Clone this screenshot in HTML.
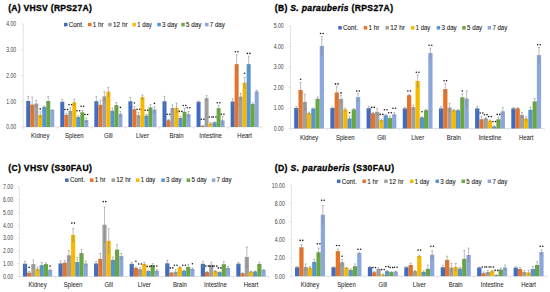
<!DOCTYPE html><html><head><meta charset="utf-8"><style>html,body{margin:0;padding:0;background:#fff;}svg{display:block;font-family:"Liberation Sans",sans-serif;}</style></head><body>
<svg width="550" height="292" viewBox="0 0 550 292">
<rect width="550" height="292" fill="#fff"/>
<text x="8.2" y="10.9" font-size="8.6" font-weight="bold" fill="#000" stroke="#000" stroke-width="0.3" textLength="83.6" lengthAdjust="spacing">(A) VHSV (RPS27A)</text>
<line x1="23.2" y1="24" x2="23.2" y2="127" stroke="#D9D9D9" stroke-width="0.75"/>
<line x1="21.2" y1="127" x2="23.2" y2="127" stroke="#D9D9D9" stroke-width="0.75"/>
<text x="16.2" y="129.3" font-size="6.6" fill="#404040" text-anchor="end" textLength="10" lengthAdjust="spacingAndGlyphs">0.00</text>
<line x1="21.2" y1="101.25" x2="23.2" y2="101.25" stroke="#D9D9D9" stroke-width="0.75"/>
<text x="16.2" y="103.55" font-size="6.6" fill="#404040" text-anchor="end" textLength="10" lengthAdjust="spacingAndGlyphs">1.00</text>
<line x1="21.2" y1="75.5" x2="23.2" y2="75.5" stroke="#D9D9D9" stroke-width="0.75"/>
<text x="16.2" y="77.8" font-size="6.6" fill="#404040" text-anchor="end" textLength="10" lengthAdjust="spacingAndGlyphs">2.00</text>
<line x1="21.2" y1="49.75" x2="23.2" y2="49.75" stroke="#D9D9D9" stroke-width="0.75"/>
<text x="16.2" y="52.05" font-size="6.6" fill="#404040" text-anchor="end" textLength="10" lengthAdjust="spacingAndGlyphs">3.00</text>
<line x1="21.2" y1="24" x2="23.2" y2="24" stroke="#D9D9D9" stroke-width="0.75"/>
<text x="16.2" y="26.3" font-size="6.6" fill="#404040" text-anchor="end" textLength="10" lengthAdjust="spacingAndGlyphs">4.00</text>
<line x1="23.2" y1="127" x2="261.7" y2="127" stroke="#D9D9D9" stroke-width="0.75"/>
<line x1="23.2" y1="127" x2="23.2" y2="129" stroke="#D9D9D9" stroke-width="0.75"/>
<line x1="57.27" y1="127" x2="57.27" y2="129" stroke="#D9D9D9" stroke-width="0.75"/>
<line x1="91.34" y1="127" x2="91.34" y2="129" stroke="#D9D9D9" stroke-width="0.75"/>
<line x1="125.41" y1="127" x2="125.41" y2="129" stroke="#D9D9D9" stroke-width="0.75"/>
<line x1="159.49" y1="127" x2="159.49" y2="129" stroke="#D9D9D9" stroke-width="0.75"/>
<line x1="193.56" y1="127" x2="193.56" y2="129" stroke="#D9D9D9" stroke-width="0.75"/>
<line x1="227.63" y1="127" x2="227.63" y2="129" stroke="#D9D9D9" stroke-width="0.75"/>
<line x1="261.7" y1="127" x2="261.7" y2="129" stroke="#D9D9D9" stroke-width="0.75"/>
<rect x="26.21" y="100.99" width="4.01" height="26.01" fill="#3F6CBF"/>
<rect x="30.21" y="104.6" width="4.01" height="22.4" fill="#E57428"/>
<rect x="34.22" y="103.57" width="4.01" height="23.43" fill="#A0A0A0"/>
<rect x="38.23" y="114.77" width="4.01" height="12.23" fill="#F7B900"/>
<rect x="42.24" y="106.91" width="4.01" height="20.09" fill="#5495D2"/>
<rect x="46.25" y="100.99" width="4.01" height="26.01" fill="#68A640"/>
<rect x="50.26" y="110" width="4.01" height="17" fill="#8CA7DB"/>
<line x1="28.21" y1="96.36" x2="28.21" y2="105.63" stroke="#858585" stroke-width="0.55"/>
<line x1="27.21" y1="96.36" x2="29.21" y2="96.36" stroke="#858585" stroke-width="0.55"/>
<line x1="27.21" y1="105.63" x2="29.21" y2="105.63" stroke="#858585" stroke-width="0.55"/>
<line x1="32.22" y1="97.13" x2="32.22" y2="112.06" stroke="#858585" stroke-width="0.55"/>
<line x1="31.22" y1="97.13" x2="33.22" y2="97.13" stroke="#858585" stroke-width="0.55"/>
<line x1="31.22" y1="112.06" x2="33.22" y2="112.06" stroke="#858585" stroke-width="0.55"/>
<line x1="36.23" y1="100.48" x2="36.23" y2="106.66" stroke="#858585" stroke-width="0.55"/>
<line x1="35.23" y1="100.48" x2="37.23" y2="100.48" stroke="#858585" stroke-width="0.55"/>
<line x1="35.23" y1="106.66" x2="37.23" y2="106.66" stroke="#858585" stroke-width="0.55"/>
<line x1="40.24" y1="111.81" x2="40.24" y2="117.73" stroke="#858585" stroke-width="0.55"/>
<line x1="39.24" y1="111.81" x2="41.24" y2="111.81" stroke="#858585" stroke-width="0.55"/>
<line x1="39.24" y1="117.73" x2="41.24" y2="117.73" stroke="#858585" stroke-width="0.55"/>
<circle cx="40.24" cy="108.9" r="0.8" fill="#1a1a1a"/>
<line x1="44.24" y1="106.14" x2="44.24" y2="107.69" stroke="#858585" stroke-width="0.55"/>
<line x1="43.24" y1="106.14" x2="45.24" y2="106.14" stroke="#858585" stroke-width="0.55"/>
<line x1="43.24" y1="107.69" x2="45.24" y2="107.69" stroke="#858585" stroke-width="0.55"/>
<line x1="48.25" y1="96.36" x2="48.25" y2="105.63" stroke="#858585" stroke-width="0.55"/>
<line x1="47.25" y1="96.36" x2="49.25" y2="96.36" stroke="#858585" stroke-width="0.55"/>
<line x1="47.25" y1="105.63" x2="49.25" y2="105.63" stroke="#858585" stroke-width="0.55"/>
<line x1="52.26" y1="109.75" x2="52.26" y2="110.26" stroke="#858585" stroke-width="0.55"/>
<line x1="51.26" y1="109.75" x2="53.26" y2="109.75" stroke="#858585" stroke-width="0.55"/>
<line x1="51.26" y1="110.26" x2="53.26" y2="110.26" stroke="#858585" stroke-width="0.55"/>
<text x="40.24" y="138.2" font-size="6.3" fill="#262626" stroke="#262626" stroke-width="0.05" text-anchor="middle" textLength="18.3" lengthAdjust="spacingAndGlyphs">Kidney</text>
<rect x="60.28" y="101.77" width="4.01" height="25.23" fill="#3F6CBF"/>
<rect x="64.29" y="114.9" width="4.01" height="12.1" fill="#E57428"/>
<rect x="68.29" y="110.78" width="4.01" height="16.22" fill="#A0A0A0"/>
<rect x="72.3" y="102.28" width="4.01" height="24.72" fill="#F7B900"/>
<rect x="76.31" y="116.96" width="4.01" height="10.04" fill="#5495D2"/>
<rect x="80.32" y="112.32" width="4.01" height="14.68" fill="#68A640"/>
<rect x="84.33" y="120.05" width="4.01" height="6.95" fill="#8CA7DB"/>
<line x1="62.28" y1="99.45" x2="62.28" y2="104.08" stroke="#858585" stroke-width="0.55"/>
<line x1="61.28" y1="99.45" x2="63.28" y2="99.45" stroke="#858585" stroke-width="0.55"/>
<line x1="61.28" y1="104.08" x2="63.28" y2="104.08" stroke="#858585" stroke-width="0.55"/>
<line x1="66.29" y1="113.35" x2="66.29" y2="116.44" stroke="#858585" stroke-width="0.55"/>
<line x1="65.29" y1="113.35" x2="67.29" y2="113.35" stroke="#858585" stroke-width="0.55"/>
<line x1="65.29" y1="116.44" x2="67.29" y2="116.44" stroke="#858585" stroke-width="0.55"/>
<circle cx="64.99" cy="109.5" r="0.8" fill="#1a1a1a"/><circle cx="67.59" cy="109.5" r="0.8" fill="#1a1a1a"/>
<line x1="70.3" y1="107.69" x2="70.3" y2="113.87" stroke="#858585" stroke-width="0.55"/>
<line x1="69.3" y1="107.69" x2="71.3" y2="107.69" stroke="#858585" stroke-width="0.55"/>
<line x1="69.3" y1="113.87" x2="71.3" y2="113.87" stroke="#858585" stroke-width="0.55"/>
<circle cx="69" cy="104.7" r="0.8" fill="#1a1a1a"/><circle cx="71.6" cy="104.7" r="0.8" fill="#1a1a1a"/>
<line x1="74.31" y1="99.19" x2="74.31" y2="105.37" stroke="#858585" stroke-width="0.55"/>
<line x1="73.31" y1="99.19" x2="75.31" y2="99.19" stroke="#858585" stroke-width="0.55"/>
<line x1="73.31" y1="105.37" x2="75.31" y2="105.37" stroke="#858585" stroke-width="0.55"/>
<line x1="78.32" y1="115.93" x2="78.32" y2="117.99" stroke="#858585" stroke-width="0.55"/>
<line x1="77.32" y1="115.93" x2="79.32" y2="115.93" stroke="#858585" stroke-width="0.55"/>
<line x1="77.32" y1="117.99" x2="79.32" y2="117.99" stroke="#858585" stroke-width="0.55"/>
<circle cx="77.02" cy="110.8" r="0.8" fill="#1a1a1a"/><circle cx="79.62" cy="110.8" r="0.8" fill="#1a1a1a"/>
<line x1="82.32" y1="110.52" x2="82.32" y2="114.12" stroke="#858585" stroke-width="0.55"/>
<line x1="81.32" y1="110.52" x2="83.32" y2="110.52" stroke="#858585" stroke-width="0.55"/>
<line x1="81.32" y1="114.12" x2="83.32" y2="114.12" stroke="#858585" stroke-width="0.55"/>
<circle cx="81.02" cy="106.3" r="0.8" fill="#1a1a1a"/><circle cx="83.62" cy="106.3" r="0.8" fill="#1a1a1a"/>
<line x1="86.33" y1="117.99" x2="86.33" y2="122.11" stroke="#858585" stroke-width="0.55"/>
<line x1="85.33" y1="117.99" x2="87.33" y2="117.99" stroke="#858585" stroke-width="0.55"/>
<line x1="85.33" y1="122.11" x2="87.33" y2="122.11" stroke="#858585" stroke-width="0.55"/>
<circle cx="85.03" cy="114.5" r="0.8" fill="#1a1a1a"/><circle cx="87.63" cy="114.5" r="0.8" fill="#1a1a1a"/>
<text x="74.31" y="138.2" font-size="6.3" fill="#262626" stroke="#262626" stroke-width="0.05" text-anchor="middle" textLength="18.63" lengthAdjust="spacingAndGlyphs">Spleen</text>
<rect x="94.35" y="101.25" width="4.01" height="25.75" fill="#3F6CBF"/>
<rect x="98.36" y="104.86" width="4.01" height="22.14" fill="#E57428"/>
<rect x="102.37" y="96.36" width="4.01" height="30.64" fill="#A0A0A0"/>
<rect x="106.37" y="91.72" width="4.01" height="35.28" fill="#F7B900"/>
<rect x="110.38" y="110.78" width="4.01" height="16.22" fill="#5495D2"/>
<rect x="114.39" y="105.11" width="4.01" height="21.89" fill="#68A640"/>
<rect x="118.4" y="113.87" width="4.01" height="13.13" fill="#8CA7DB"/>
<line x1="96.35" y1="96.62" x2="96.35" y2="105.88" stroke="#858585" stroke-width="0.55"/>
<line x1="95.35" y1="96.62" x2="97.35" y2="96.62" stroke="#858585" stroke-width="0.55"/>
<line x1="95.35" y1="105.88" x2="97.35" y2="105.88" stroke="#858585" stroke-width="0.55"/>
<line x1="100.36" y1="100.22" x2="100.36" y2="109.49" stroke="#858585" stroke-width="0.55"/>
<line x1="99.36" y1="100.22" x2="101.36" y2="100.22" stroke="#858585" stroke-width="0.55"/>
<line x1="99.36" y1="109.49" x2="101.36" y2="109.49" stroke="#858585" stroke-width="0.55"/>
<line x1="104.37" y1="91.72" x2="104.37" y2="100.99" stroke="#858585" stroke-width="0.55"/>
<line x1="103.37" y1="91.72" x2="105.37" y2="91.72" stroke="#858585" stroke-width="0.55"/>
<line x1="103.37" y1="100.99" x2="105.37" y2="100.99" stroke="#858585" stroke-width="0.55"/>
<line x1="108.38" y1="87.34" x2="108.38" y2="96.1" stroke="#858585" stroke-width="0.55"/>
<line x1="107.38" y1="87.34" x2="109.38" y2="87.34" stroke="#858585" stroke-width="0.55"/>
<line x1="107.38" y1="96.1" x2="109.38" y2="96.1" stroke="#858585" stroke-width="0.55"/>
<line x1="112.39" y1="108.2" x2="112.39" y2="113.35" stroke="#858585" stroke-width="0.55"/>
<line x1="111.39" y1="108.2" x2="113.39" y2="108.2" stroke="#858585" stroke-width="0.55"/>
<line x1="111.39" y1="113.35" x2="113.39" y2="113.35" stroke="#858585" stroke-width="0.55"/>
<line x1="116.4" y1="102.54" x2="116.4" y2="107.69" stroke="#858585" stroke-width="0.55"/>
<line x1="115.4" y1="102.54" x2="117.4" y2="102.54" stroke="#858585" stroke-width="0.55"/>
<line x1="115.4" y1="107.69" x2="117.4" y2="107.69" stroke="#858585" stroke-width="0.55"/>
<line x1="120.4" y1="111.29" x2="120.4" y2="116.44" stroke="#858585" stroke-width="0.55"/>
<line x1="119.4" y1="111.29" x2="121.4" y2="111.29" stroke="#858585" stroke-width="0.55"/>
<line x1="119.4" y1="116.44" x2="121.4" y2="116.44" stroke="#858585" stroke-width="0.55"/>
<circle cx="120.4" cy="107.4" r="0.8" fill="#1a1a1a"/>
<text x="108.38" y="138.2" font-size="6.3" fill="#262626" stroke="#262626" stroke-width="0.05" text-anchor="middle" textLength="8.64" lengthAdjust="spacingAndGlyphs">Gill</text>
<rect x="128.42" y="101.25" width="4.01" height="25.75" fill="#3F6CBF"/>
<rect x="132.43" y="109.23" width="4.01" height="17.77" fill="#E57428"/>
<rect x="136.44" y="115.16" width="4.01" height="11.85" fill="#A0A0A0"/>
<rect x="140.45" y="97.13" width="4.01" height="29.87" fill="#F7B900"/>
<rect x="144.45" y="115.67" width="4.01" height="11.33" fill="#5495D2"/>
<rect x="148.46" y="107.43" width="4.01" height="19.57" fill="#68A640"/>
<rect x="152.47" y="109.49" width="4.01" height="17.51" fill="#8CA7DB"/>
<line x1="130.42" y1="97.39" x2="130.42" y2="105.11" stroke="#858585" stroke-width="0.55"/>
<line x1="129.42" y1="97.39" x2="131.42" y2="97.39" stroke="#858585" stroke-width="0.55"/>
<line x1="129.42" y1="105.11" x2="131.42" y2="105.11" stroke="#858585" stroke-width="0.55"/>
<line x1="134.43" y1="106.66" x2="134.43" y2="111.81" stroke="#858585" stroke-width="0.55"/>
<line x1="133.43" y1="106.66" x2="135.43" y2="106.66" stroke="#858585" stroke-width="0.55"/>
<line x1="133.43" y1="111.81" x2="135.43" y2="111.81" stroke="#858585" stroke-width="0.55"/>
<circle cx="134.43" cy="103" r="0.8" fill="#1a1a1a"/>
<line x1="138.44" y1="112.58" x2="138.44" y2="117.73" stroke="#858585" stroke-width="0.55"/>
<line x1="137.44" y1="112.58" x2="139.44" y2="112.58" stroke="#858585" stroke-width="0.55"/>
<line x1="137.44" y1="117.73" x2="139.44" y2="117.73" stroke="#858585" stroke-width="0.55"/>
<circle cx="137.14" cy="109.2" r="0.8" fill="#1a1a1a"/><circle cx="139.74" cy="109.2" r="0.8" fill="#1a1a1a"/>
<line x1="142.45" y1="95.07" x2="142.45" y2="99.19" stroke="#858585" stroke-width="0.55"/>
<line x1="141.45" y1="95.07" x2="143.45" y2="95.07" stroke="#858585" stroke-width="0.55"/>
<line x1="141.45" y1="99.19" x2="143.45" y2="99.19" stroke="#858585" stroke-width="0.55"/>
<line x1="146.46" y1="114.38" x2="146.46" y2="116.96" stroke="#858585" stroke-width="0.55"/>
<line x1="145.46" y1="114.38" x2="147.46" y2="114.38" stroke="#858585" stroke-width="0.55"/>
<line x1="145.46" y1="116.96" x2="147.46" y2="116.96" stroke="#858585" stroke-width="0.55"/>
<circle cx="145.16" cy="110.2" r="0.8" fill="#1a1a1a"/><circle cx="147.76" cy="110.2" r="0.8" fill="#1a1a1a"/>
<line x1="150.47" y1="104.6" x2="150.47" y2="110.26" stroke="#858585" stroke-width="0.55"/>
<line x1="149.47" y1="104.6" x2="151.47" y2="104.6" stroke="#858585" stroke-width="0.55"/>
<line x1="149.47" y1="110.26" x2="151.47" y2="110.26" stroke="#858585" stroke-width="0.55"/>
<line x1="154.48" y1="106.66" x2="154.48" y2="112.32" stroke="#858585" stroke-width="0.55"/>
<line x1="153.48" y1="106.66" x2="155.48" y2="106.66" stroke="#858585" stroke-width="0.55"/>
<line x1="153.48" y1="112.32" x2="155.48" y2="112.32" stroke="#858585" stroke-width="0.55"/>
<circle cx="154.48" cy="103.4" r="0.8" fill="#1a1a1a"/>
<text x="142.45" y="138.2" font-size="6.3" fill="#262626" stroke="#262626" stroke-width="0.05" text-anchor="middle" textLength="12.97" lengthAdjust="spacingAndGlyphs">Liver</text>
<rect x="162.49" y="101.25" width="4.01" height="25.75" fill="#3F6CBF"/>
<rect x="166.5" y="120.31" width="4.01" height="6.7" fill="#E57428"/>
<rect x="170.51" y="107.94" width="4.01" height="19.05" fill="#A0A0A0"/>
<rect x="174.52" y="107.69" width="4.01" height="19.31" fill="#F7B900"/>
<rect x="178.53" y="117.99" width="4.01" height="9.01" fill="#5495D2"/>
<rect x="182.53" y="111.81" width="4.01" height="15.19" fill="#68A640"/>
<rect x="186.54" y="114.12" width="4.01" height="12.88" fill="#8CA7DB"/>
<line x1="164.5" y1="96.36" x2="164.5" y2="106.14" stroke="#858585" stroke-width="0.55"/>
<line x1="163.5" y1="96.36" x2="165.5" y2="96.36" stroke="#858585" stroke-width="0.55"/>
<line x1="163.5" y1="106.14" x2="165.5" y2="106.14" stroke="#858585" stroke-width="0.55"/>
<line x1="168.5" y1="119.53" x2="168.5" y2="121.08" stroke="#858585" stroke-width="0.55"/>
<line x1="167.5" y1="119.53" x2="169.5" y2="119.53" stroke="#858585" stroke-width="0.55"/>
<line x1="167.5" y1="121.08" x2="169.5" y2="121.08" stroke="#858585" stroke-width="0.55"/>
<circle cx="167.2" cy="114.2" r="0.8" fill="#1a1a1a"/><circle cx="169.8" cy="114.2" r="0.8" fill="#1a1a1a"/>
<line x1="172.51" y1="104.86" x2="172.51" y2="111.03" stroke="#858585" stroke-width="0.55"/>
<line x1="171.51" y1="104.86" x2="173.51" y2="104.86" stroke="#858585" stroke-width="0.55"/>
<line x1="171.51" y1="111.03" x2="173.51" y2="111.03" stroke="#858585" stroke-width="0.55"/>
<line x1="176.52" y1="103.05" x2="176.52" y2="112.32" stroke="#858585" stroke-width="0.55"/>
<line x1="175.52" y1="103.05" x2="177.52" y2="103.05" stroke="#858585" stroke-width="0.55"/>
<line x1="175.52" y1="112.32" x2="177.52" y2="112.32" stroke="#858585" stroke-width="0.55"/>
<line x1="180.53" y1="116.7" x2="180.53" y2="119.28" stroke="#858585" stroke-width="0.55"/>
<line x1="179.53" y1="116.7" x2="181.53" y2="116.7" stroke="#858585" stroke-width="0.55"/>
<line x1="179.53" y1="119.28" x2="181.53" y2="119.28" stroke="#858585" stroke-width="0.55"/>
<circle cx="179.23" cy="111.4" r="0.8" fill="#1a1a1a"/><circle cx="181.83" cy="111.4" r="0.8" fill="#1a1a1a"/>
<line x1="184.54" y1="108.2" x2="184.54" y2="115.41" stroke="#858585" stroke-width="0.55"/>
<line x1="183.54" y1="108.2" x2="185.54" y2="108.2" stroke="#858585" stroke-width="0.55"/>
<line x1="183.54" y1="115.41" x2="185.54" y2="115.41" stroke="#858585" stroke-width="0.55"/>
<circle cx="183.24" cy="105.5" r="0.8" fill="#1a1a1a"/><circle cx="185.84" cy="105.5" r="0.8" fill="#1a1a1a"/>
<line x1="188.55" y1="111.55" x2="188.55" y2="116.7" stroke="#858585" stroke-width="0.55"/>
<line x1="187.55" y1="111.55" x2="189.55" y2="111.55" stroke="#858585" stroke-width="0.55"/>
<line x1="187.55" y1="116.7" x2="189.55" y2="116.7" stroke="#858585" stroke-width="0.55"/>
<circle cx="187.25" cy="107.7" r="0.8" fill="#1a1a1a"/><circle cx="189.85" cy="107.7" r="0.8" fill="#1a1a1a"/>
<text x="176.52" y="138.2" font-size="6.3" fill="#262626" stroke="#262626" stroke-width="0.05" text-anchor="middle" textLength="13.97" lengthAdjust="spacingAndGlyphs">Brain</text>
<rect x="196.56" y="101.77" width="4.01" height="25.23" fill="#3F6CBF"/>
<rect x="200.57" y="125.97" width="4.01" height="1.03" fill="#E57428"/>
<rect x="204.58" y="98.16" width="4.01" height="28.84" fill="#A0A0A0"/>
<rect x="208.59" y="123.39" width="4.01" height="3.61" fill="#F7B900"/>
<rect x="212.6" y="122.36" width="4.01" height="4.63" fill="#5495D2"/>
<rect x="216.61" y="108.2" width="4.01" height="18.8" fill="#68A640"/>
<rect x="220.61" y="120.31" width="4.01" height="6.7" fill="#8CA7DB"/>
<line x1="198.57" y1="100.99" x2="198.57" y2="102.54" stroke="#858585" stroke-width="0.55"/>
<line x1="197.57" y1="100.99" x2="199.57" y2="100.99" stroke="#858585" stroke-width="0.55"/>
<line x1="197.57" y1="102.54" x2="199.57" y2="102.54" stroke="#858585" stroke-width="0.55"/>
<line x1="202.58" y1="125.45" x2="202.58" y2="126.48" stroke="#858585" stroke-width="0.55"/>
<line x1="201.58" y1="125.45" x2="203.58" y2="125.45" stroke="#858585" stroke-width="0.55"/>
<line x1="201.58" y1="126.48" x2="203.58" y2="126.48" stroke="#858585" stroke-width="0.55"/>
<circle cx="201.28" cy="119.3" r="0.8" fill="#1a1a1a"/><circle cx="203.88" cy="119.3" r="0.8" fill="#1a1a1a"/>
<line x1="206.58" y1="95.59" x2="206.58" y2="100.73" stroke="#858585" stroke-width="0.55"/>
<line x1="205.58" y1="95.59" x2="207.58" y2="95.59" stroke="#858585" stroke-width="0.55"/>
<line x1="205.58" y1="100.73" x2="207.58" y2="100.73" stroke="#858585" stroke-width="0.55"/>
<line x1="210.59" y1="122.11" x2="210.59" y2="124.68" stroke="#858585" stroke-width="0.55"/>
<line x1="209.59" y1="122.11" x2="211.59" y2="122.11" stroke="#858585" stroke-width="0.55"/>
<line x1="209.59" y1="124.68" x2="211.59" y2="124.68" stroke="#858585" stroke-width="0.55"/>
<circle cx="209.29" cy="117" r="0.8" fill="#1a1a1a"/><circle cx="211.89" cy="117" r="0.8" fill="#1a1a1a"/>
<line x1="214.6" y1="121.85" x2="214.6" y2="122.88" stroke="#858585" stroke-width="0.55"/>
<line x1="213.6" y1="121.85" x2="215.6" y2="121.85" stroke="#858585" stroke-width="0.55"/>
<line x1="213.6" y1="122.88" x2="215.6" y2="122.88" stroke="#858585" stroke-width="0.55"/>
<circle cx="213.3" cy="117" r="0.8" fill="#1a1a1a"/><circle cx="215.9" cy="117" r="0.8" fill="#1a1a1a"/>
<line x1="218.61" y1="105.37" x2="218.61" y2="111.03" stroke="#858585" stroke-width="0.55"/>
<line x1="217.61" y1="105.37" x2="219.61" y2="105.37" stroke="#858585" stroke-width="0.55"/>
<line x1="217.61" y1="111.03" x2="219.61" y2="111.03" stroke="#858585" stroke-width="0.55"/>
<circle cx="217.31" cy="102.7" r="0.8" fill="#1a1a1a"/><circle cx="219.91" cy="102.7" r="0.8" fill="#1a1a1a"/>
<line x1="222.62" y1="116.44" x2="222.62" y2="124.17" stroke="#858585" stroke-width="0.55"/>
<line x1="221.62" y1="116.44" x2="223.62" y2="116.44" stroke="#858585" stroke-width="0.55"/>
<line x1="221.62" y1="124.17" x2="223.62" y2="124.17" stroke="#858585" stroke-width="0.55"/>
<circle cx="221.32" cy="114.2" r="0.8" fill="#1a1a1a"/><circle cx="223.92" cy="114.2" r="0.8" fill="#1a1a1a"/>
<text x="210.59" y="138.2" font-size="6.3" fill="#262626" stroke="#262626" stroke-width="0.05" text-anchor="middle" textLength="22.62" lengthAdjust="spacingAndGlyphs">Intestine</text>
<rect x="230.63" y="101.51" width="4.01" height="25.49" fill="#3F6CBF"/>
<rect x="234.64" y="64.17" width="4.01" height="62.83" fill="#E57428"/>
<rect x="238.65" y="96.62" width="4.01" height="30.38" fill="#A0A0A0"/>
<rect x="242.66" y="82.71" width="4.01" height="44.29" fill="#F7B900"/>
<rect x="246.67" y="64.17" width="4.01" height="62.83" fill="#5495D2"/>
<rect x="250.68" y="104.08" width="4.01" height="22.92" fill="#68A640"/>
<rect x="254.69" y="91.47" width="4.01" height="35.53" fill="#8CA7DB"/>
<line x1="232.64" y1="98.67" x2="232.64" y2="104.34" stroke="#858585" stroke-width="0.55"/>
<line x1="231.64" y1="98.67" x2="233.64" y2="98.67" stroke="#858585" stroke-width="0.55"/>
<line x1="231.64" y1="104.34" x2="233.64" y2="104.34" stroke="#858585" stroke-width="0.55"/>
<line x1="236.65" y1="54.9" x2="236.65" y2="73.44" stroke="#858585" stroke-width="0.55"/>
<line x1="235.65" y1="54.9" x2="237.65" y2="54.9" stroke="#858585" stroke-width="0.55"/>
<line x1="235.65" y1="73.44" x2="237.65" y2="73.44" stroke="#858585" stroke-width="0.55"/>
<circle cx="235.35" cy="51.7" r="0.8" fill="#1a1a1a"/><circle cx="237.95" cy="51.7" r="0.8" fill="#1a1a1a"/>
<line x1="240.66" y1="93.53" x2="240.66" y2="99.71" stroke="#858585" stroke-width="0.55"/>
<line x1="239.66" y1="93.53" x2="241.66" y2="93.53" stroke="#858585" stroke-width="0.55"/>
<line x1="239.66" y1="99.71" x2="241.66" y2="99.71" stroke="#858585" stroke-width="0.55"/>
<line x1="244.66" y1="77.3" x2="244.66" y2="88.12" stroke="#858585" stroke-width="0.55"/>
<line x1="243.66" y1="77.3" x2="245.66" y2="77.3" stroke="#858585" stroke-width="0.55"/>
<line x1="243.66" y1="88.12" x2="245.66" y2="88.12" stroke="#858585" stroke-width="0.55"/>
<circle cx="244.66" cy="73.3" r="0.8" fill="#1a1a1a"/>
<line x1="248.67" y1="56.19" x2="248.67" y2="72.15" stroke="#858585" stroke-width="0.55"/>
<line x1="247.67" y1="56.19" x2="249.67" y2="56.19" stroke="#858585" stroke-width="0.55"/>
<line x1="247.67" y1="72.15" x2="249.67" y2="72.15" stroke="#858585" stroke-width="0.55"/>
<circle cx="247.37" cy="53.4" r="0.8" fill="#1a1a1a"/><circle cx="249.97" cy="53.4" r="0.8" fill="#1a1a1a"/>
<line x1="252.68" y1="102.8" x2="252.68" y2="105.37" stroke="#858585" stroke-width="0.55"/>
<line x1="251.68" y1="102.8" x2="253.68" y2="102.8" stroke="#858585" stroke-width="0.55"/>
<line x1="251.68" y1="105.37" x2="253.68" y2="105.37" stroke="#858585" stroke-width="0.55"/>
<line x1="256.69" y1="90.18" x2="256.69" y2="92.75" stroke="#858585" stroke-width="0.55"/>
<line x1="255.69" y1="90.18" x2="257.69" y2="90.18" stroke="#858585" stroke-width="0.55"/>
<line x1="255.69" y1="92.75" x2="257.69" y2="92.75" stroke="#858585" stroke-width="0.55"/>
<text x="244.66" y="138.2" font-size="6.3" fill="#262626" stroke="#262626" stroke-width="0.05" text-anchor="middle" textLength="14.63" lengthAdjust="spacingAndGlyphs">Heart</text>
<rect x="64" y="22.85" width="3.5" height="3.5" fill="#3F6CBF"/>
<text x="68.8" y="26.8" font-size="6.5" fill="#262626" stroke="#262626" stroke-width="0.1" textLength="15" lengthAdjust="spacingAndGlyphs">Cont.</text>
<rect x="88" y="22.85" width="3.5" height="3.5" fill="#E57428"/>
<text x="92.8" y="26.8" font-size="6.5" fill="#262626" stroke="#262626" stroke-width="0.1" textLength="10.9" lengthAdjust="spacingAndGlyphs">1 hr</text>
<rect x="108.2" y="22.85" width="3.5" height="3.5" fill="#A0A0A0"/>
<text x="113" y="26.8" font-size="6.5" fill="#262626" stroke="#262626" stroke-width="0.1" textLength="14.6" lengthAdjust="spacingAndGlyphs">12 hr</text>
<rect x="132.4" y="22.85" width="3.5" height="3.5" fill="#F7B900"/>
<text x="137.2" y="26.8" font-size="6.5" fill="#262626" stroke="#262626" stroke-width="0.1" textLength="14.5" lengthAdjust="spacingAndGlyphs">1 day</text>
<rect x="157.3" y="22.85" width="3.5" height="3.5" fill="#5495D2"/>
<text x="162.1" y="26.8" font-size="6.5" fill="#262626" stroke="#262626" stroke-width="0.1" textLength="15.2" lengthAdjust="spacingAndGlyphs">3 day</text>
<rect x="181.3" y="22.85" width="3.5" height="3.5" fill="#68A640"/>
<text x="186.1" y="26.8" font-size="6.5" fill="#262626" stroke="#262626" stroke-width="0.1" textLength="15.2" lengthAdjust="spacingAndGlyphs">5 day</text>
<rect x="205" y="22.85" width="3.5" height="3.5" fill="#8CA7DB"/>
<text x="209.8" y="26.8" font-size="6.5" fill="#262626" stroke="#262626" stroke-width="0.1" textLength="14.9" lengthAdjust="spacingAndGlyphs">7 day</text>
<text x="274.7" y="10.9" font-size="8.6" font-weight="bold" fill="#000" stroke="#000" stroke-width="0.3" textLength="118.3" lengthAdjust="spacing">(B) <tspan font-style="italic">S. parauberis</tspan> (RPS27A)</text>
<line x1="290.6" y1="26" x2="290.6" y2="128.5" stroke="#D9D9D9" stroke-width="0.75"/>
<line x1="288.6" y1="128.5" x2="290.6" y2="128.5" stroke="#D9D9D9" stroke-width="0.75"/>
<text x="283.7" y="130.8" font-size="6.6" fill="#404040" text-anchor="end" textLength="10" lengthAdjust="spacingAndGlyphs">0.00</text>
<line x1="288.6" y1="108" x2="290.6" y2="108" stroke="#D9D9D9" stroke-width="0.75"/>
<text x="283.7" y="110.3" font-size="6.6" fill="#404040" text-anchor="end" textLength="10" lengthAdjust="spacingAndGlyphs">1.00</text>
<line x1="288.6" y1="87.5" x2="290.6" y2="87.5" stroke="#D9D9D9" stroke-width="0.75"/>
<text x="283.7" y="89.8" font-size="6.6" fill="#404040" text-anchor="end" textLength="10" lengthAdjust="spacingAndGlyphs">2.00</text>
<line x1="288.6" y1="67" x2="290.6" y2="67" stroke="#D9D9D9" stroke-width="0.75"/>
<text x="283.7" y="69.3" font-size="6.6" fill="#404040" text-anchor="end" textLength="10" lengthAdjust="spacingAndGlyphs">3.00</text>
<line x1="288.6" y1="46.5" x2="290.6" y2="46.5" stroke="#D9D9D9" stroke-width="0.75"/>
<text x="283.7" y="48.8" font-size="6.6" fill="#404040" text-anchor="end" textLength="10" lengthAdjust="spacingAndGlyphs">4.00</text>
<line x1="288.6" y1="26" x2="290.6" y2="26" stroke="#D9D9D9" stroke-width="0.75"/>
<text x="283.7" y="28.3" font-size="6.6" fill="#404040" text-anchor="end" textLength="10" lengthAdjust="spacingAndGlyphs">5.00</text>
<line x1="290.6" y1="128.5" x2="544.3" y2="128.5" stroke="#D9D9D9" stroke-width="0.75"/>
<line x1="291" y1="128.5" x2="291" y2="130.5" stroke="#D9D9D9" stroke-width="0.75"/>
<line x1="327.19" y1="128.5" x2="327.19" y2="130.5" stroke="#D9D9D9" stroke-width="0.75"/>
<line x1="363.37" y1="128.5" x2="363.37" y2="130.5" stroke="#D9D9D9" stroke-width="0.75"/>
<line x1="399.56" y1="128.5" x2="399.56" y2="130.5" stroke="#D9D9D9" stroke-width="0.75"/>
<line x1="435.74" y1="128.5" x2="435.74" y2="130.5" stroke="#D9D9D9" stroke-width="0.75"/>
<line x1="471.93" y1="128.5" x2="471.93" y2="130.5" stroke="#D9D9D9" stroke-width="0.75"/>
<line x1="508.11" y1="128.5" x2="508.11" y2="130.5" stroke="#D9D9D9" stroke-width="0.75"/>
<line x1="544.3" y1="128.5" x2="544.3" y2="130.5" stroke="#D9D9D9" stroke-width="0.75"/>
<rect x="294.19" y="108" width="4.26" height="20.5" fill="#3F6CBF"/>
<rect x="298.45" y="89.96" width="4.26" height="38.54" fill="#E57428"/>
<rect x="302.71" y="101.85" width="4.26" height="26.65" fill="#A0A0A0"/>
<rect x="306.96" y="113.12" width="4.26" height="15.38" fill="#F7B900"/>
<rect x="311.22" y="108.62" width="4.26" height="19.88" fill="#5495D2"/>
<rect x="315.48" y="98.78" width="4.26" height="29.72" fill="#68A640"/>
<rect x="319.74" y="45.88" width="4.26" height="82.62" fill="#8CA7DB"/>
<line x1="296.32" y1="106.56" x2="296.32" y2="109.44" stroke="#858585" stroke-width="0.55"/>
<line x1="295.32" y1="106.56" x2="297.32" y2="106.56" stroke="#858585" stroke-width="0.55"/>
<line x1="295.32" y1="109.44" x2="297.32" y2="109.44" stroke="#858585" stroke-width="0.55"/>
<line x1="300.58" y1="82.38" x2="300.58" y2="97.55" stroke="#858585" stroke-width="0.55"/>
<line x1="299.58" y1="82.38" x2="301.58" y2="82.38" stroke="#858585" stroke-width="0.55"/>
<line x1="299.58" y1="97.55" x2="301.58" y2="97.55" stroke="#858585" stroke-width="0.55"/>
<circle cx="300.58" cy="79.3" r="0.8" fill="#1a1a1a"/>
<line x1="304.84" y1="94.27" x2="304.84" y2="109.44" stroke="#858585" stroke-width="0.55"/>
<line x1="303.84" y1="94.27" x2="305.84" y2="94.27" stroke="#858585" stroke-width="0.55"/>
<line x1="303.84" y1="109.44" x2="305.84" y2="109.44" stroke="#858585" stroke-width="0.55"/>
<line x1="309.09" y1="112.1" x2="309.09" y2="114.15" stroke="#858585" stroke-width="0.55"/>
<line x1="308.09" y1="112.1" x2="310.09" y2="112.1" stroke="#858585" stroke-width="0.55"/>
<line x1="308.09" y1="114.15" x2="310.09" y2="114.15" stroke="#858585" stroke-width="0.55"/>
<line x1="313.35" y1="108" x2="313.35" y2="109.23" stroke="#858585" stroke-width="0.55"/>
<line x1="312.35" y1="108" x2="314.35" y2="108" stroke="#858585" stroke-width="0.55"/>
<line x1="312.35" y1="109.23" x2="314.35" y2="109.23" stroke="#858585" stroke-width="0.55"/>
<line x1="317.61" y1="96.93" x2="317.61" y2="100.62" stroke="#858585" stroke-width="0.55"/>
<line x1="316.61" y1="96.93" x2="318.61" y2="96.93" stroke="#858585" stroke-width="0.55"/>
<line x1="316.61" y1="100.62" x2="318.61" y2="100.62" stroke="#858585" stroke-width="0.55"/>
<line x1="321.86" y1="36.45" x2="321.86" y2="55.31" stroke="#858585" stroke-width="0.55"/>
<line x1="320.86" y1="36.45" x2="322.86" y2="36.45" stroke="#858585" stroke-width="0.55"/>
<line x1="320.86" y1="55.31" x2="322.86" y2="55.31" stroke="#858585" stroke-width="0.55"/>
<circle cx="320.56" cy="33.5" r="0.8" fill="#1a1a1a"/><circle cx="323.16" cy="33.5" r="0.8" fill="#1a1a1a"/>
<text x="309.09" y="139.5" font-size="6.3" fill="#262626" stroke="#262626" stroke-width="0.05" text-anchor="middle" textLength="18.3" lengthAdjust="spacingAndGlyphs">Kidney</text>
<rect x="330.38" y="108" width="4.26" height="20.5" fill="#3F6CBF"/>
<rect x="334.64" y="92.42" width="4.26" height="36.08" fill="#E57428"/>
<rect x="338.89" y="98.98" width="4.26" height="29.52" fill="#A0A0A0"/>
<rect x="343.15" y="109.44" width="4.26" height="19.07" fill="#F7B900"/>
<rect x="347.41" y="118.45" width="4.26" height="10.04" fill="#5495D2"/>
<rect x="351.66" y="109.44" width="4.26" height="19.07" fill="#68A640"/>
<rect x="355.92" y="97.13" width="4.26" height="31.37" fill="#8CA7DB"/>
<line x1="332.51" y1="106.97" x2="332.51" y2="109.03" stroke="#858585" stroke-width="0.55"/>
<line x1="331.51" y1="106.97" x2="333.51" y2="106.97" stroke="#858585" stroke-width="0.55"/>
<line x1="331.51" y1="109.03" x2="333.51" y2="109.03" stroke="#858585" stroke-width="0.55"/>
<line x1="336.76" y1="86.27" x2="336.76" y2="98.57" stroke="#858585" stroke-width="0.55"/>
<line x1="335.76" y1="86.27" x2="337.76" y2="86.27" stroke="#858585" stroke-width="0.55"/>
<line x1="335.76" y1="98.57" x2="337.76" y2="98.57" stroke="#858585" stroke-width="0.55"/>
<circle cx="335.46" cy="83.9" r="0.8" fill="#1a1a1a"/><circle cx="338.06" cy="83.9" r="0.8" fill="#1a1a1a"/>
<line x1="341.02" y1="95.5" x2="341.02" y2="102.47" stroke="#858585" stroke-width="0.55"/>
<line x1="340.02" y1="95.5" x2="342.02" y2="95.5" stroke="#858585" stroke-width="0.55"/>
<line x1="340.02" y1="102.47" x2="342.02" y2="102.47" stroke="#858585" stroke-width="0.55"/>
<circle cx="341.02" cy="92.9" r="0.8" fill="#1a1a1a"/>
<line x1="345.28" y1="108" x2="345.28" y2="110.87" stroke="#858585" stroke-width="0.55"/>
<line x1="344.28" y1="108" x2="346.28" y2="108" stroke="#858585" stroke-width="0.55"/>
<line x1="344.28" y1="110.87" x2="346.28" y2="110.87" stroke="#858585" stroke-width="0.55"/>
<line x1="349.54" y1="116.2" x2="349.54" y2="120.71" stroke="#858585" stroke-width="0.55"/>
<line x1="348.54" y1="116.2" x2="350.54" y2="116.2" stroke="#858585" stroke-width="0.55"/>
<line x1="348.54" y1="120.71" x2="350.54" y2="120.71" stroke="#858585" stroke-width="0.55"/>
<circle cx="349.54" cy="112.7" r="0.8" fill="#1a1a1a"/>
<line x1="353.79" y1="108.62" x2="353.79" y2="110.25" stroke="#858585" stroke-width="0.55"/>
<line x1="352.79" y1="108.62" x2="354.79" y2="108.62" stroke="#858585" stroke-width="0.55"/>
<line x1="352.79" y1="110.25" x2="354.79" y2="110.25" stroke="#858585" stroke-width="0.55"/>
<line x1="358.05" y1="93.44" x2="358.05" y2="100.83" stroke="#858585" stroke-width="0.55"/>
<line x1="357.05" y1="93.44" x2="359.05" y2="93.44" stroke="#858585" stroke-width="0.55"/>
<line x1="357.05" y1="100.83" x2="359.05" y2="100.83" stroke="#858585" stroke-width="0.55"/>
<circle cx="356.75" cy="91" r="0.8" fill="#1a1a1a"/><circle cx="359.35" cy="91" r="0.8" fill="#1a1a1a"/>
<text x="345.28" y="139.5" font-size="6.3" fill="#262626" stroke="#262626" stroke-width="0.05" text-anchor="middle" textLength="18.63" lengthAdjust="spacingAndGlyphs">Spleen</text>
<rect x="366.56" y="108.2" width="4.26" height="20.29" fill="#3F6CBF"/>
<rect x="370.82" y="113.33" width="4.26" height="15.17" fill="#E57428"/>
<rect x="375.08" y="111.89" width="4.26" height="16.61" fill="#A0A0A0"/>
<rect x="379.34" y="120.09" width="4.26" height="8.4" fill="#F7B900"/>
<rect x="383.59" y="115.38" width="4.26" height="13.12" fill="#5495D2"/>
<rect x="387.85" y="118.05" width="4.26" height="10.46" fill="#68A640"/>
<rect x="392.11" y="114.36" width="4.26" height="14.14" fill="#8CA7DB"/>
<line x1="368.69" y1="106.36" x2="368.69" y2="110.05" stroke="#858585" stroke-width="0.55"/>
<line x1="367.69" y1="106.36" x2="369.69" y2="106.36" stroke="#858585" stroke-width="0.55"/>
<line x1="367.69" y1="110.05" x2="369.69" y2="110.05" stroke="#858585" stroke-width="0.55"/>
<line x1="372.95" y1="112.51" x2="372.95" y2="114.15" stroke="#858585" stroke-width="0.55"/>
<line x1="371.95" y1="112.51" x2="373.95" y2="112.51" stroke="#858585" stroke-width="0.55"/>
<line x1="371.95" y1="114.15" x2="373.95" y2="114.15" stroke="#858585" stroke-width="0.55"/>
<circle cx="371.65" cy="107.4" r="0.8" fill="#1a1a1a"/><circle cx="374.25" cy="107.4" r="0.8" fill="#1a1a1a"/>
<line x1="377.21" y1="108.41" x2="377.21" y2="115.38" stroke="#858585" stroke-width="0.55"/>
<line x1="376.21" y1="108.41" x2="378.21" y2="108.41" stroke="#858585" stroke-width="0.55"/>
<line x1="376.21" y1="115.38" x2="378.21" y2="115.38" stroke="#858585" stroke-width="0.55"/>
<line x1="381.46" y1="119.07" x2="381.46" y2="121.12" stroke="#858585" stroke-width="0.55"/>
<line x1="380.46" y1="119.07" x2="382.46" y2="119.07" stroke="#858585" stroke-width="0.55"/>
<line x1="380.46" y1="121.12" x2="382.46" y2="121.12" stroke="#858585" stroke-width="0.55"/>
<circle cx="380.16" cy="114.4" r="0.8" fill="#1a1a1a"/><circle cx="382.76" cy="114.4" r="0.8" fill="#1a1a1a"/>
<line x1="385.72" y1="114.56" x2="385.72" y2="116.2" stroke="#858585" stroke-width="0.55"/>
<line x1="384.72" y1="114.56" x2="386.72" y2="114.56" stroke="#858585" stroke-width="0.55"/>
<line x1="384.72" y1="116.2" x2="386.72" y2="116.2" stroke="#858585" stroke-width="0.55"/>
<circle cx="384.42" cy="109.8" r="0.8" fill="#1a1a1a"/><circle cx="387.02" cy="109.8" r="0.8" fill="#1a1a1a"/>
<line x1="389.98" y1="116.61" x2="389.98" y2="119.48" stroke="#858585" stroke-width="0.55"/>
<line x1="388.98" y1="116.61" x2="390.98" y2="116.61" stroke="#858585" stroke-width="0.55"/>
<line x1="388.98" y1="119.48" x2="390.98" y2="119.48" stroke="#858585" stroke-width="0.55"/>
<circle cx="388.68" cy="112.8" r="0.8" fill="#1a1a1a"/><circle cx="391.28" cy="112.8" r="0.8" fill="#1a1a1a"/>
<line x1="394.24" y1="112.72" x2="394.24" y2="116" stroke="#858585" stroke-width="0.55"/>
<line x1="393.24" y1="112.72" x2="395.24" y2="112.72" stroke="#858585" stroke-width="0.55"/>
<line x1="393.24" y1="116" x2="395.24" y2="116" stroke="#858585" stroke-width="0.55"/>
<circle cx="392.94" cy="108.2" r="0.8" fill="#1a1a1a"/><circle cx="395.54" cy="108.2" r="0.8" fill="#1a1a1a"/>
<text x="381.46" y="139.5" font-size="6.3" fill="#262626" stroke="#262626" stroke-width="0.05" text-anchor="middle" textLength="8.64" lengthAdjust="spacingAndGlyphs">Gill</text>
<rect x="402.75" y="108.41" width="4.26" height="20.09" fill="#3F6CBF"/>
<rect x="407.01" y="95.29" width="4.26" height="33.21" fill="#E57428"/>
<rect x="411.26" y="107.18" width="4.26" height="21.32" fill="#A0A0A0"/>
<rect x="415.52" y="80.94" width="4.26" height="47.56" fill="#F7B900"/>
<rect x="419.78" y="117.43" width="4.26" height="11.07" fill="#5495D2"/>
<rect x="424.04" y="110.25" width="4.26" height="18.25" fill="#68A640"/>
<rect x="428.29" y="53.06" width="4.26" height="75.44" fill="#8CA7DB"/>
<line x1="404.88" y1="107.38" x2="404.88" y2="109.44" stroke="#858585" stroke-width="0.55"/>
<line x1="403.88" y1="107.38" x2="405.88" y2="107.38" stroke="#858585" stroke-width="0.55"/>
<line x1="403.88" y1="109.44" x2="405.88" y2="109.44" stroke="#858585" stroke-width="0.55"/>
<line x1="409.14" y1="94.68" x2="409.14" y2="95.91" stroke="#858585" stroke-width="0.55"/>
<line x1="408.14" y1="94.68" x2="410.14" y2="94.68" stroke="#858585" stroke-width="0.55"/>
<line x1="408.14" y1="95.91" x2="410.14" y2="95.91" stroke="#858585" stroke-width="0.55"/>
<circle cx="407.84" cy="91" r="0.8" fill="#1a1a1a"/><circle cx="410.44" cy="91" r="0.8" fill="#1a1a1a"/>
<line x1="413.39" y1="105.13" x2="413.39" y2="109.23" stroke="#858585" stroke-width="0.55"/>
<line x1="412.39" y1="105.13" x2="414.39" y2="105.13" stroke="#858585" stroke-width="0.55"/>
<line x1="412.39" y1="109.23" x2="414.39" y2="109.23" stroke="#858585" stroke-width="0.55"/>
<line x1="417.65" y1="75.2" x2="417.65" y2="86.68" stroke="#858585" stroke-width="0.55"/>
<line x1="416.65" y1="75.2" x2="418.65" y2="75.2" stroke="#858585" stroke-width="0.55"/>
<line x1="416.65" y1="86.68" x2="418.65" y2="86.68" stroke="#858585" stroke-width="0.55"/>
<circle cx="416.35" cy="72.2" r="0.8" fill="#1a1a1a"/><circle cx="418.95" cy="72.2" r="0.8" fill="#1a1a1a"/>
<line x1="421.91" y1="116.81" x2="421.91" y2="118.05" stroke="#858585" stroke-width="0.55"/>
<line x1="420.91" y1="116.81" x2="422.91" y2="116.81" stroke="#858585" stroke-width="0.55"/>
<line x1="420.91" y1="118.05" x2="422.91" y2="118.05" stroke="#858585" stroke-width="0.55"/>
<circle cx="421.91" cy="111.8" r="0.8" fill="#1a1a1a"/>
<line x1="426.16" y1="109.44" x2="426.16" y2="111.08" stroke="#858585" stroke-width="0.55"/>
<line x1="425.16" y1="109.44" x2="427.16" y2="109.44" stroke="#858585" stroke-width="0.55"/>
<line x1="425.16" y1="111.08" x2="427.16" y2="111.08" stroke="#858585" stroke-width="0.55"/>
<line x1="430.42" y1="48.14" x2="430.42" y2="57.98" stroke="#858585" stroke-width="0.55"/>
<line x1="429.42" y1="48.14" x2="431.42" y2="48.14" stroke="#858585" stroke-width="0.55"/>
<line x1="429.42" y1="57.98" x2="431.42" y2="57.98" stroke="#858585" stroke-width="0.55"/>
<circle cx="429.12" cy="45.2" r="0.8" fill="#1a1a1a"/><circle cx="431.72" cy="45.2" r="0.8" fill="#1a1a1a"/>
<text x="417.65" y="139.5" font-size="6.3" fill="#262626" stroke="#262626" stroke-width="0.05" text-anchor="middle" textLength="12.97" lengthAdjust="spacingAndGlyphs">Liver</text>
<rect x="438.94" y="108.41" width="4.26" height="20.09" fill="#3F6CBF"/>
<rect x="443.19" y="89.14" width="4.26" height="39.36" fill="#E57428"/>
<rect x="447.45" y="107.59" width="4.26" height="20.91" fill="#A0A0A0"/>
<rect x="451.71" y="110.25" width="4.26" height="18.25" fill="#F7B900"/>
<rect x="455.96" y="110.25" width="4.26" height="18.25" fill="#5495D2"/>
<rect x="460.22" y="97.34" width="4.26" height="31.16" fill="#68A640"/>
<rect x="464.48" y="98.57" width="4.26" height="29.93" fill="#8CA7DB"/>
<line x1="441.06" y1="106.36" x2="441.06" y2="110.46" stroke="#858585" stroke-width="0.55"/>
<line x1="440.06" y1="106.36" x2="442.06" y2="106.36" stroke="#858585" stroke-width="0.55"/>
<line x1="440.06" y1="110.46" x2="442.06" y2="110.46" stroke="#858585" stroke-width="0.55"/>
<line x1="445.32" y1="83.4" x2="445.32" y2="94.88" stroke="#858585" stroke-width="0.55"/>
<line x1="444.32" y1="83.4" x2="446.32" y2="83.4" stroke="#858585" stroke-width="0.55"/>
<line x1="444.32" y1="94.88" x2="446.32" y2="94.88" stroke="#858585" stroke-width="0.55"/>
<circle cx="444.02" cy="80.7" r="0.8" fill="#1a1a1a"/><circle cx="446.62" cy="80.7" r="0.8" fill="#1a1a1a"/>
<line x1="449.58" y1="103.28" x2="449.58" y2="111.89" stroke="#858585" stroke-width="0.55"/>
<line x1="448.58" y1="103.28" x2="450.58" y2="103.28" stroke="#858585" stroke-width="0.55"/>
<line x1="448.58" y1="111.89" x2="450.58" y2="111.89" stroke="#858585" stroke-width="0.55"/>
<line x1="453.84" y1="109.44" x2="453.84" y2="111.08" stroke="#858585" stroke-width="0.55"/>
<line x1="452.84" y1="109.44" x2="454.84" y2="109.44" stroke="#858585" stroke-width="0.55"/>
<line x1="452.84" y1="111.08" x2="454.84" y2="111.08" stroke="#858585" stroke-width="0.55"/>
<line x1="458.09" y1="109.64" x2="458.09" y2="110.87" stroke="#858585" stroke-width="0.55"/>
<line x1="457.09" y1="109.64" x2="459.09" y2="109.64" stroke="#858585" stroke-width="0.55"/>
<line x1="457.09" y1="110.87" x2="459.09" y2="110.87" stroke="#858585" stroke-width="0.55"/>
<line x1="462.35" y1="93.86" x2="462.35" y2="100.83" stroke="#858585" stroke-width="0.55"/>
<line x1="461.35" y1="93.86" x2="463.35" y2="93.86" stroke="#858585" stroke-width="0.55"/>
<line x1="461.35" y1="100.83" x2="463.35" y2="100.83" stroke="#858585" stroke-width="0.55"/>
<circle cx="462.35" cy="91" r="0.8" fill="#1a1a1a"/>
<line x1="466.61" y1="90.98" x2="466.61" y2="106.16" stroke="#858585" stroke-width="0.55"/>
<line x1="465.61" y1="90.98" x2="467.61" y2="90.98" stroke="#858585" stroke-width="0.55"/>
<line x1="465.61" y1="106.16" x2="467.61" y2="106.16" stroke="#858585" stroke-width="0.55"/>
<text x="453.84" y="139.5" font-size="6.3" fill="#262626" stroke="#262626" stroke-width="0.05" text-anchor="middle" textLength="13.97" lengthAdjust="spacingAndGlyphs">Brain</text>
<rect x="475.12" y="108.41" width="4.26" height="20.09" fill="#3F6CBF"/>
<rect x="479.38" y="119.28" width="4.26" height="9.22" fill="#E57428"/>
<rect x="483.64" y="118.45" width="4.26" height="10.04" fill="#A0A0A0"/>
<rect x="487.89" y="120.71" width="4.26" height="7.79" fill="#F7B900"/>
<rect x="492.15" y="126.45" width="4.26" height="2.05" fill="#5495D2"/>
<rect x="496.41" y="119.28" width="4.26" height="9.22" fill="#68A640"/>
<rect x="500.66" y="111.28" width="4.26" height="17.22" fill="#8CA7DB"/>
<line x1="477.25" y1="106.36" x2="477.25" y2="110.46" stroke="#858585" stroke-width="0.55"/>
<line x1="476.25" y1="106.36" x2="478.25" y2="106.36" stroke="#858585" stroke-width="0.55"/>
<line x1="476.25" y1="110.46" x2="478.25" y2="110.46" stroke="#858585" stroke-width="0.55"/>
<line x1="481.51" y1="116.61" x2="481.51" y2="121.94" stroke="#858585" stroke-width="0.55"/>
<line x1="480.51" y1="116.61" x2="482.51" y2="116.61" stroke="#858585" stroke-width="0.55"/>
<line x1="480.51" y1="121.94" x2="482.51" y2="121.94" stroke="#858585" stroke-width="0.55"/>
<circle cx="480.21" cy="113" r="0.8" fill="#1a1a1a"/><circle cx="482.81" cy="113" r="0.8" fill="#1a1a1a"/>
<line x1="485.76" y1="117.84" x2="485.76" y2="119.07" stroke="#858585" stroke-width="0.55"/>
<line x1="484.76" y1="117.84" x2="486.76" y2="117.84" stroke="#858585" stroke-width="0.55"/>
<line x1="484.76" y1="119.07" x2="486.76" y2="119.07" stroke="#858585" stroke-width="0.55"/>
<circle cx="484.46" cy="114.8" r="0.8" fill="#1a1a1a"/><circle cx="487.06" cy="114.8" r="0.8" fill="#1a1a1a"/>
<line x1="490.02" y1="120.09" x2="490.02" y2="121.33" stroke="#858585" stroke-width="0.55"/>
<line x1="489.02" y1="120.09" x2="491.02" y2="120.09" stroke="#858585" stroke-width="0.55"/>
<line x1="489.02" y1="121.33" x2="491.02" y2="121.33" stroke="#858585" stroke-width="0.55"/>
<circle cx="488.72" cy="116.6" r="0.8" fill="#1a1a1a"/><circle cx="491.32" cy="116.6" r="0.8" fill="#1a1a1a"/>
<line x1="494.28" y1="125.83" x2="494.28" y2="127.06" stroke="#858585" stroke-width="0.55"/>
<line x1="493.28" y1="125.83" x2="495.28" y2="125.83" stroke="#858585" stroke-width="0.55"/>
<line x1="493.28" y1="127.06" x2="495.28" y2="127.06" stroke="#858585" stroke-width="0.55"/>
<circle cx="492.98" cy="121.6" r="0.8" fill="#1a1a1a"/><circle cx="495.58" cy="121.6" r="0.8" fill="#1a1a1a"/>
<line x1="498.54" y1="117.22" x2="498.54" y2="121.33" stroke="#858585" stroke-width="0.55"/>
<line x1="497.54" y1="117.22" x2="499.54" y2="117.22" stroke="#858585" stroke-width="0.55"/>
<line x1="497.54" y1="121.33" x2="499.54" y2="121.33" stroke="#858585" stroke-width="0.55"/>
<circle cx="497.24" cy="114.4" r="0.8" fill="#1a1a1a"/><circle cx="499.84" cy="114.4" r="0.8" fill="#1a1a1a"/>
<line x1="502.79" y1="107.59" x2="502.79" y2="114.97" stroke="#858585" stroke-width="0.55"/>
<line x1="501.79" y1="107.59" x2="503.79" y2="107.59" stroke="#858585" stroke-width="0.55"/>
<line x1="501.79" y1="114.97" x2="503.79" y2="114.97" stroke="#858585" stroke-width="0.55"/>
<text x="490.02" y="139.5" font-size="6.3" fill="#262626" stroke="#262626" stroke-width="0.05" text-anchor="middle" textLength="22.62" lengthAdjust="spacingAndGlyphs">Intestine</text>
<rect x="511.31" y="108.41" width="4.26" height="20.09" fill="#3F6CBF"/>
<rect x="515.56" y="108.41" width="4.26" height="20.09" fill="#E57428"/>
<rect x="519.82" y="114.97" width="4.26" height="13.53" fill="#A0A0A0"/>
<rect x="524.08" y="118.45" width="4.26" height="10.04" fill="#F7B900"/>
<rect x="528.34" y="109.84" width="4.26" height="18.66" fill="#5495D2"/>
<rect x="532.59" y="101.44" width="4.26" height="27.06" fill="#68A640"/>
<rect x="536.85" y="55.11" width="4.26" height="73.39" fill="#8CA7DB"/>
<line x1="513.44" y1="107.38" x2="513.44" y2="109.44" stroke="#858585" stroke-width="0.55"/>
<line x1="512.44" y1="107.38" x2="514.44" y2="107.38" stroke="#858585" stroke-width="0.55"/>
<line x1="512.44" y1="109.44" x2="514.44" y2="109.44" stroke="#858585" stroke-width="0.55"/>
<line x1="517.69" y1="107.59" x2="517.69" y2="109.23" stroke="#858585" stroke-width="0.55"/>
<line x1="516.69" y1="107.59" x2="518.69" y2="107.59" stroke="#858585" stroke-width="0.55"/>
<line x1="516.69" y1="109.23" x2="518.69" y2="109.23" stroke="#858585" stroke-width="0.55"/>
<line x1="521.95" y1="112.51" x2="521.95" y2="117.43" stroke="#858585" stroke-width="0.55"/>
<line x1="520.95" y1="112.51" x2="522.95" y2="112.51" stroke="#858585" stroke-width="0.55"/>
<line x1="520.95" y1="117.43" x2="522.95" y2="117.43" stroke="#858585" stroke-width="0.55"/>
<line x1="526.21" y1="116.81" x2="526.21" y2="120.09" stroke="#858585" stroke-width="0.55"/>
<line x1="525.21" y1="116.81" x2="527.21" y2="116.81" stroke="#858585" stroke-width="0.55"/>
<line x1="525.21" y1="120.09" x2="527.21" y2="120.09" stroke="#858585" stroke-width="0.55"/>
<line x1="530.46" y1="107.18" x2="530.46" y2="112.51" stroke="#858585" stroke-width="0.55"/>
<line x1="529.46" y1="107.18" x2="531.46" y2="107.18" stroke="#858585" stroke-width="0.55"/>
<line x1="529.46" y1="112.51" x2="531.46" y2="112.51" stroke="#858585" stroke-width="0.55"/>
<line x1="534.72" y1="98.57" x2="534.72" y2="104.31" stroke="#858585" stroke-width="0.55"/>
<line x1="533.72" y1="98.57" x2="535.72" y2="98.57" stroke="#858585" stroke-width="0.55"/>
<line x1="533.72" y1="104.31" x2="535.72" y2="104.31" stroke="#858585" stroke-width="0.55"/>
<line x1="538.98" y1="47.52" x2="538.98" y2="62.7" stroke="#858585" stroke-width="0.55"/>
<line x1="537.98" y1="47.52" x2="539.98" y2="47.52" stroke="#858585" stroke-width="0.55"/>
<line x1="537.98" y1="62.7" x2="539.98" y2="62.7" stroke="#858585" stroke-width="0.55"/>
<circle cx="537.68" cy="44.8" r="0.8" fill="#1a1a1a"/><circle cx="540.28" cy="44.8" r="0.8" fill="#1a1a1a"/>
<text x="526.21" y="139.5" font-size="6.3" fill="#262626" stroke="#262626" stroke-width="0.05" text-anchor="middle" textLength="14.63" lengthAdjust="spacingAndGlyphs">Heart</text>
<rect x="338.3" y="26.05" width="3.5" height="3.5" fill="#3F6CBF"/>
<text x="343.1" y="30" font-size="6.5" fill="#262626" stroke="#262626" stroke-width="0.1" textLength="15" lengthAdjust="spacingAndGlyphs">Cont.</text>
<rect x="363.7" y="26.05" width="3.5" height="3.5" fill="#E57428"/>
<text x="368.5" y="30" font-size="6.5" fill="#262626" stroke="#262626" stroke-width="0.1" textLength="10.9" lengthAdjust="spacingAndGlyphs">1 hr</text>
<rect x="385.5" y="26.05" width="3.5" height="3.5" fill="#A0A0A0"/>
<text x="390.3" y="30" font-size="6.5" fill="#262626" stroke="#262626" stroke-width="0.1" textLength="14.6" lengthAdjust="spacingAndGlyphs">12 hr</text>
<rect x="410.9" y="26.05" width="3.5" height="3.5" fill="#F7B900"/>
<text x="415.7" y="30" font-size="6.5" fill="#262626" stroke="#262626" stroke-width="0.1" textLength="14.5" lengthAdjust="spacingAndGlyphs">1 day</text>
<rect x="436.7" y="26.05" width="3.5" height="3.5" fill="#5495D2"/>
<text x="441.5" y="30" font-size="6.5" fill="#262626" stroke="#262626" stroke-width="0.1" textLength="15.2" lengthAdjust="spacingAndGlyphs">3 day</text>
<rect x="462.2" y="26.05" width="3.5" height="3.5" fill="#68A640"/>
<text x="467" y="30" font-size="6.5" fill="#262626" stroke="#262626" stroke-width="0.1" textLength="15.2" lengthAdjust="spacingAndGlyphs">5 day</text>
<rect x="487.6" y="26.05" width="3.5" height="3.5" fill="#8CA7DB"/>
<text x="492.4" y="30" font-size="6.5" fill="#262626" stroke="#262626" stroke-width="0.1" textLength="14.9" lengthAdjust="spacingAndGlyphs">7 day</text>
<text x="8.2" y="171.1" font-size="8.6" font-weight="bold" fill="#000" stroke="#000" stroke-width="0.3" textLength="83.6" lengthAdjust="spacing">(C) VHSV (S30FAU)</text>
<line x1="19.3" y1="187" x2="19.3" y2="276.5" stroke="#D9D9D9" stroke-width="0.75"/>
<line x1="17.3" y1="276.5" x2="19.3" y2="276.5" stroke="#D9D9D9" stroke-width="0.75"/>
<text x="13" y="278.8" font-size="6.6" fill="#404040" text-anchor="end" textLength="10" lengthAdjust="spacingAndGlyphs">0.00</text>
<line x1="17.3" y1="263.71" x2="19.3" y2="263.71" stroke="#D9D9D9" stroke-width="0.75"/>
<text x="13" y="266.01" font-size="6.6" fill="#404040" text-anchor="end" textLength="10" lengthAdjust="spacingAndGlyphs">1.00</text>
<line x1="17.3" y1="250.93" x2="19.3" y2="250.93" stroke="#D9D9D9" stroke-width="0.75"/>
<text x="13" y="253.23" font-size="6.6" fill="#404040" text-anchor="end" textLength="10" lengthAdjust="spacingAndGlyphs">2.00</text>
<line x1="17.3" y1="238.14" x2="19.3" y2="238.14" stroke="#D9D9D9" stroke-width="0.75"/>
<text x="13" y="240.44" font-size="6.6" fill="#404040" text-anchor="end" textLength="10" lengthAdjust="spacingAndGlyphs">3.00</text>
<line x1="17.3" y1="225.36" x2="19.3" y2="225.36" stroke="#D9D9D9" stroke-width="0.75"/>
<text x="13" y="227.66" font-size="6.6" fill="#404040" text-anchor="end" textLength="10" lengthAdjust="spacingAndGlyphs">4.00</text>
<line x1="17.3" y1="212.57" x2="19.3" y2="212.57" stroke="#D9D9D9" stroke-width="0.75"/>
<text x="13" y="214.87" font-size="6.6" fill="#404040" text-anchor="end" textLength="10" lengthAdjust="spacingAndGlyphs">5.00</text>
<line x1="17.3" y1="199.79" x2="19.3" y2="199.79" stroke="#D9D9D9" stroke-width="0.75"/>
<text x="13" y="202.09" font-size="6.6" fill="#404040" text-anchor="end" textLength="10" lengthAdjust="spacingAndGlyphs">6.00</text>
<line x1="17.3" y1="187" x2="19.3" y2="187" stroke="#D9D9D9" stroke-width="0.75"/>
<text x="13" y="189.3" font-size="6.6" fill="#404040" text-anchor="end" textLength="10" lengthAdjust="spacingAndGlyphs">7.00</text>
<line x1="19.3" y1="276.5" x2="268.8" y2="276.5" stroke="#D9D9D9" stroke-width="0.75"/>
<line x1="19.76" y1="276.5" x2="19.76" y2="278.5" stroke="#D9D9D9" stroke-width="0.75"/>
<line x1="55.34" y1="276.5" x2="55.34" y2="278.5" stroke="#D9D9D9" stroke-width="0.75"/>
<line x1="90.91" y1="276.5" x2="90.91" y2="278.5" stroke="#D9D9D9" stroke-width="0.75"/>
<line x1="126.49" y1="276.5" x2="126.49" y2="278.5" stroke="#D9D9D9" stroke-width="0.75"/>
<line x1="162.07" y1="276.5" x2="162.07" y2="278.5" stroke="#D9D9D9" stroke-width="0.75"/>
<line x1="197.65" y1="276.5" x2="197.65" y2="278.5" stroke="#D9D9D9" stroke-width="0.75"/>
<line x1="233.22" y1="276.5" x2="233.22" y2="278.5" stroke="#D9D9D9" stroke-width="0.75"/>
<line x1="268.8" y1="276.5" x2="268.8" y2="278.5" stroke="#D9D9D9" stroke-width="0.75"/>
<rect x="22.9" y="263.71" width="4.19" height="12.79" fill="#3F6CBF"/>
<rect x="27.08" y="272.66" width="4.19" height="3.84" fill="#E57428"/>
<rect x="31.27" y="264.1" width="4.19" height="12.4" fill="#A0A0A0"/>
<rect x="35.46" y="268.83" width="4.19" height="7.67" fill="#F7B900"/>
<rect x="39.64" y="265.12" width="4.19" height="11.38" fill="#5495D2"/>
<rect x="43.83" y="264.1" width="4.19" height="12.4" fill="#68A640"/>
<rect x="48.01" y="269.98" width="4.19" height="6.52" fill="#8CA7DB"/>
<line x1="24.99" y1="261.29" x2="24.99" y2="266.14" stroke="#858585" stroke-width="0.55"/>
<line x1="23.99" y1="261.29" x2="25.99" y2="261.29" stroke="#858585" stroke-width="0.55"/>
<line x1="23.99" y1="266.14" x2="25.99" y2="266.14" stroke="#858585" stroke-width="0.55"/>
<line x1="29.18" y1="271.39" x2="29.18" y2="273.94" stroke="#858585" stroke-width="0.55"/>
<line x1="28.18" y1="271.39" x2="30.18" y2="271.39" stroke="#858585" stroke-width="0.55"/>
<line x1="28.18" y1="273.94" x2="30.18" y2="273.94" stroke="#858585" stroke-width="0.55"/>
<circle cx="29.18" cy="267.4" r="0.8" fill="#1a1a1a"/>
<line x1="33.36" y1="260.01" x2="33.36" y2="268.19" stroke="#858585" stroke-width="0.55"/>
<line x1="32.36" y1="260.01" x2="34.36" y2="260.01" stroke="#858585" stroke-width="0.55"/>
<line x1="32.36" y1="268.19" x2="34.36" y2="268.19" stroke="#858585" stroke-width="0.55"/>
<line x1="37.55" y1="267.04" x2="37.55" y2="270.62" stroke="#858585" stroke-width="0.55"/>
<line x1="36.55" y1="267.04" x2="38.55" y2="267.04" stroke="#858585" stroke-width="0.55"/>
<line x1="36.55" y1="270.62" x2="38.55" y2="270.62" stroke="#858585" stroke-width="0.55"/>
<line x1="41.73" y1="262.56" x2="41.73" y2="267.68" stroke="#858585" stroke-width="0.55"/>
<line x1="40.73" y1="262.56" x2="42.73" y2="262.56" stroke="#858585" stroke-width="0.55"/>
<line x1="40.73" y1="267.68" x2="42.73" y2="267.68" stroke="#858585" stroke-width="0.55"/>
<line x1="45.92" y1="262.82" x2="45.92" y2="265.38" stroke="#858585" stroke-width="0.55"/>
<line x1="44.92" y1="262.82" x2="46.92" y2="262.82" stroke="#858585" stroke-width="0.55"/>
<line x1="44.92" y1="265.38" x2="46.92" y2="265.38" stroke="#858585" stroke-width="0.55"/>
<line x1="50.11" y1="269.08" x2="50.11" y2="270.87" stroke="#858585" stroke-width="0.55"/>
<line x1="49.11" y1="269.08" x2="51.11" y2="269.08" stroke="#858585" stroke-width="0.55"/>
<line x1="49.11" y1="270.87" x2="51.11" y2="270.87" stroke="#858585" stroke-width="0.55"/>
<circle cx="50.11" cy="266.1" r="0.8" fill="#1a1a1a"/>
<text x="37.55" y="287.2" font-size="6.3" fill="#262626" stroke="#262626" stroke-width="0.05" text-anchor="middle" textLength="18.3" lengthAdjust="spacingAndGlyphs">Kidney</text>
<rect x="58.48" y="263.46" width="4.19" height="13.04" fill="#3F6CBF"/>
<rect x="62.66" y="262.69" width="4.19" height="13.81" fill="#E57428"/>
<rect x="66.85" y="255.28" width="4.19" height="21.22" fill="#A0A0A0"/>
<rect x="71.03" y="234.95" width="4.19" height="41.55" fill="#F7B900"/>
<rect x="75.22" y="262.05" width="4.19" height="14.45" fill="#5495D2"/>
<rect x="79.4" y="253.1" width="4.19" height="23.4" fill="#68A640"/>
<rect x="83.59" y="263.46" width="4.19" height="13.04" fill="#8CA7DB"/>
<line x1="60.57" y1="261.03" x2="60.57" y2="265.89" stroke="#858585" stroke-width="0.55"/>
<line x1="59.57" y1="261.03" x2="61.57" y2="261.03" stroke="#858585" stroke-width="0.55"/>
<line x1="59.57" y1="265.89" x2="61.57" y2="265.89" stroke="#858585" stroke-width="0.55"/>
<line x1="64.75" y1="260.65" x2="64.75" y2="264.74" stroke="#858585" stroke-width="0.55"/>
<line x1="63.75" y1="260.65" x2="65.75" y2="260.65" stroke="#858585" stroke-width="0.55"/>
<line x1="63.75" y1="264.74" x2="65.75" y2="264.74" stroke="#858585" stroke-width="0.55"/>
<line x1="68.94" y1="250.42" x2="68.94" y2="260.13" stroke="#858585" stroke-width="0.55"/>
<line x1="67.94" y1="250.42" x2="69.94" y2="250.42" stroke="#858585" stroke-width="0.55"/>
<line x1="67.94" y1="260.13" x2="69.94" y2="260.13" stroke="#858585" stroke-width="0.55"/>
<line x1="73.13" y1="228.55" x2="73.13" y2="241.34" stroke="#858585" stroke-width="0.55"/>
<line x1="72.13" y1="228.55" x2="74.13" y2="228.55" stroke="#858585" stroke-width="0.55"/>
<line x1="72.13" y1="241.34" x2="74.13" y2="241.34" stroke="#858585" stroke-width="0.55"/>
<circle cx="71.83" cy="223.1" r="0.8" fill="#1a1a1a"/><circle cx="74.43" cy="223.1" r="0.8" fill="#1a1a1a"/>
<line x1="77.31" y1="257.32" x2="77.31" y2="266.78" stroke="#858585" stroke-width="0.55"/>
<line x1="76.31" y1="257.32" x2="78.31" y2="257.32" stroke="#858585" stroke-width="0.55"/>
<line x1="76.31" y1="266.78" x2="78.31" y2="266.78" stroke="#858585" stroke-width="0.55"/>
<line x1="81.5" y1="249.65" x2="81.5" y2="256.55" stroke="#858585" stroke-width="0.55"/>
<line x1="80.5" y1="249.65" x2="82.5" y2="249.65" stroke="#858585" stroke-width="0.55"/>
<line x1="80.5" y1="256.55" x2="82.5" y2="256.55" stroke="#858585" stroke-width="0.55"/>
<line x1="85.68" y1="261.03" x2="85.68" y2="265.89" stroke="#858585" stroke-width="0.55"/>
<line x1="84.68" y1="261.03" x2="86.68" y2="261.03" stroke="#858585" stroke-width="0.55"/>
<line x1="84.68" y1="265.89" x2="86.68" y2="265.89" stroke="#858585" stroke-width="0.55"/>
<text x="73.13" y="287.2" font-size="6.3" fill="#262626" stroke="#262626" stroke-width="0.05" text-anchor="middle" textLength="18.63" lengthAdjust="spacingAndGlyphs">Spleen</text>
<rect x="94.05" y="263.46" width="4.19" height="13.04" fill="#3F6CBF"/>
<rect x="98.24" y="258.86" width="4.19" height="17.64" fill="#E57428"/>
<rect x="102.42" y="224.72" width="4.19" height="51.78" fill="#A0A0A0"/>
<rect x="106.61" y="240.83" width="4.19" height="35.67" fill="#F7B900"/>
<rect x="110.8" y="259.88" width="4.19" height="16.62" fill="#5495D2"/>
<rect x="114.98" y="249.65" width="4.19" height="26.85" fill="#68A640"/>
<rect x="119.17" y="256.04" width="4.19" height="20.46" fill="#8CA7DB"/>
<line x1="96.15" y1="261.41" x2="96.15" y2="265.5" stroke="#858585" stroke-width="0.55"/>
<line x1="95.15" y1="261.41" x2="97.15" y2="261.41" stroke="#858585" stroke-width="0.55"/>
<line x1="95.15" y1="265.5" x2="97.15" y2="265.5" stroke="#858585" stroke-width="0.55"/>
<line x1="100.33" y1="253.49" x2="100.33" y2="264.23" stroke="#858585" stroke-width="0.55"/>
<line x1="99.33" y1="253.49" x2="101.33" y2="253.49" stroke="#858585" stroke-width="0.55"/>
<line x1="99.33" y1="264.23" x2="101.33" y2="264.23" stroke="#858585" stroke-width="0.55"/>
<line x1="104.52" y1="207.07" x2="104.52" y2="242.36" stroke="#858585" stroke-width="0.55"/>
<line x1="103.52" y1="207.07" x2="105.52" y2="207.07" stroke="#858585" stroke-width="0.55"/>
<line x1="103.52" y1="242.36" x2="105.52" y2="242.36" stroke="#858585" stroke-width="0.55"/>
<circle cx="103.22" cy="201.6" r="0.8" fill="#1a1a1a"/><circle cx="105.82" cy="201.6" r="0.8" fill="#1a1a1a"/>
<line x1="108.7" y1="228.81" x2="108.7" y2="252.85" stroke="#858585" stroke-width="0.55"/>
<line x1="107.7" y1="228.81" x2="109.7" y2="228.81" stroke="#858585" stroke-width="0.55"/>
<line x1="107.7" y1="252.85" x2="109.7" y2="252.85" stroke="#858585" stroke-width="0.55"/>
<line x1="112.89" y1="257.07" x2="112.89" y2="262.69" stroke="#858585" stroke-width="0.55"/>
<line x1="111.89" y1="257.07" x2="113.89" y2="257.07" stroke="#858585" stroke-width="0.55"/>
<line x1="111.89" y1="262.69" x2="113.89" y2="262.69" stroke="#858585" stroke-width="0.55"/>
<line x1="117.07" y1="244.54" x2="117.07" y2="254.76" stroke="#858585" stroke-width="0.55"/>
<line x1="116.07" y1="244.54" x2="118.07" y2="244.54" stroke="#858585" stroke-width="0.55"/>
<line x1="116.07" y1="254.76" x2="118.07" y2="254.76" stroke="#858585" stroke-width="0.55"/>
<line x1="121.26" y1="253.49" x2="121.26" y2="258.6" stroke="#858585" stroke-width="0.55"/>
<line x1="120.26" y1="253.49" x2="122.26" y2="253.49" stroke="#858585" stroke-width="0.55"/>
<line x1="120.26" y1="258.6" x2="122.26" y2="258.6" stroke="#858585" stroke-width="0.55"/>
<text x="108.7" y="287.2" font-size="6.3" fill="#262626" stroke="#262626" stroke-width="0.05" text-anchor="middle" textLength="8.64" lengthAdjust="spacingAndGlyphs">Gill</text>
<rect x="129.63" y="263.84" width="4.19" height="12.66" fill="#3F6CBF"/>
<rect x="133.82" y="267.93" width="4.19" height="8.57" fill="#E57428"/>
<rect x="138" y="269.21" width="4.19" height="7.29" fill="#A0A0A0"/>
<rect x="142.19" y="263.97" width="4.19" height="12.53" fill="#F7B900"/>
<rect x="146.37" y="271.13" width="4.19" height="5.37" fill="#5495D2"/>
<rect x="150.56" y="265.25" width="4.19" height="11.25" fill="#68A640"/>
<rect x="154.74" y="270.75" width="4.19" height="5.75" fill="#8CA7DB"/>
<line x1="131.72" y1="262.18" x2="131.72" y2="265.5" stroke="#858585" stroke-width="0.55"/>
<line x1="130.72" y1="262.18" x2="132.72" y2="262.18" stroke="#858585" stroke-width="0.55"/>
<line x1="130.72" y1="265.5" x2="132.72" y2="265.5" stroke="#858585" stroke-width="0.55"/>
<line x1="135.91" y1="266.91" x2="135.91" y2="268.96" stroke="#858585" stroke-width="0.55"/>
<line x1="134.91" y1="266.91" x2="136.91" y2="266.91" stroke="#858585" stroke-width="0.55"/>
<line x1="134.91" y1="268.96" x2="136.91" y2="268.96" stroke="#858585" stroke-width="0.55"/>
<circle cx="135.91" cy="261.2" r="0.8" fill="#1a1a1a"/>
<line x1="140.09" y1="267.68" x2="140.09" y2="270.75" stroke="#858585" stroke-width="0.55"/>
<line x1="139.09" y1="267.68" x2="141.09" y2="267.68" stroke="#858585" stroke-width="0.55"/>
<line x1="139.09" y1="270.75" x2="141.09" y2="270.75" stroke="#858585" stroke-width="0.55"/>
<circle cx="138.79" cy="264" r="0.8" fill="#1a1a1a"/><circle cx="141.39" cy="264" r="0.8" fill="#1a1a1a"/>
<line x1="144.28" y1="262.31" x2="144.28" y2="265.63" stroke="#858585" stroke-width="0.55"/>
<line x1="143.28" y1="262.31" x2="145.28" y2="262.31" stroke="#858585" stroke-width="0.55"/>
<line x1="143.28" y1="265.63" x2="145.28" y2="265.63" stroke="#858585" stroke-width="0.55"/>
<line x1="148.47" y1="270.62" x2="148.47" y2="271.64" stroke="#858585" stroke-width="0.55"/>
<line x1="147.47" y1="270.62" x2="149.47" y2="270.62" stroke="#858585" stroke-width="0.55"/>
<line x1="147.47" y1="271.64" x2="149.47" y2="271.64" stroke="#858585" stroke-width="0.55"/>
<circle cx="147.17" cy="266.4" r="0.8" fill="#1a1a1a"/><circle cx="149.77" cy="266.4" r="0.8" fill="#1a1a1a"/>
<line x1="152.65" y1="263.71" x2="152.65" y2="266.78" stroke="#858585" stroke-width="0.55"/>
<line x1="151.65" y1="263.71" x2="153.65" y2="263.71" stroke="#858585" stroke-width="0.55"/>
<line x1="151.65" y1="266.78" x2="153.65" y2="266.78" stroke="#858585" stroke-width="0.55"/>
<circle cx="151.35" cy="266" r="0.8" fill="#1a1a1a"/><circle cx="153.95" cy="266" r="0.8" fill="#1a1a1a"/>
<line x1="156.84" y1="269.47" x2="156.84" y2="272.02" stroke="#858585" stroke-width="0.55"/>
<line x1="155.84" y1="269.47" x2="157.84" y2="269.47" stroke="#858585" stroke-width="0.55"/>
<line x1="155.84" y1="272.02" x2="157.84" y2="272.02" stroke="#858585" stroke-width="0.55"/>
<circle cx="156.84" cy="266" r="0.8" fill="#1a1a1a"/>
<text x="144.28" y="287.2" font-size="6.3" fill="#262626" stroke="#262626" stroke-width="0.05" text-anchor="middle" textLength="12.97" lengthAdjust="spacingAndGlyphs">Liver</text>
<rect x="165.21" y="263.33" width="4.19" height="13.17" fill="#3F6CBF"/>
<rect x="169.39" y="272.79" width="4.19" height="3.71" fill="#E57428"/>
<rect x="173.58" y="271.77" width="4.19" height="4.73" fill="#A0A0A0"/>
<rect x="177.76" y="267.29" width="4.19" height="9.21" fill="#F7B900"/>
<rect x="181.95" y="270.75" width="4.19" height="5.75" fill="#5495D2"/>
<rect x="186.14" y="266.91" width="4.19" height="9.59" fill="#68A640"/>
<rect x="190.32" y="268.96" width="4.19" height="7.54" fill="#8CA7DB"/>
<line x1="167.3" y1="260.26" x2="167.3" y2="266.4" stroke="#858585" stroke-width="0.55"/>
<line x1="166.3" y1="260.26" x2="168.3" y2="260.26" stroke="#858585" stroke-width="0.55"/>
<line x1="166.3" y1="266.4" x2="168.3" y2="266.4" stroke="#858585" stroke-width="0.55"/>
<line x1="171.49" y1="272.41" x2="171.49" y2="273.18" stroke="#858585" stroke-width="0.55"/>
<line x1="170.49" y1="272.41" x2="172.49" y2="272.41" stroke="#858585" stroke-width="0.55"/>
<line x1="170.49" y1="273.18" x2="172.49" y2="273.18" stroke="#858585" stroke-width="0.55"/>
<circle cx="170.19" cy="267.9" r="0.8" fill="#1a1a1a"/><circle cx="172.79" cy="267.9" r="0.8" fill="#1a1a1a"/>
<line x1="175.67" y1="269.6" x2="175.67" y2="273.94" stroke="#858585" stroke-width="0.55"/>
<line x1="174.67" y1="269.6" x2="176.67" y2="269.6" stroke="#858585" stroke-width="0.55"/>
<line x1="174.67" y1="273.94" x2="176.67" y2="273.94" stroke="#858585" stroke-width="0.55"/>
<circle cx="174.37" cy="265.3" r="0.8" fill="#1a1a1a"/><circle cx="176.97" cy="265.3" r="0.8" fill="#1a1a1a"/>
<line x1="179.86" y1="266.91" x2="179.86" y2="267.68" stroke="#858585" stroke-width="0.55"/>
<line x1="178.86" y1="266.91" x2="180.86" y2="266.91" stroke="#858585" stroke-width="0.55"/>
<line x1="178.86" y1="267.68" x2="180.86" y2="267.68" stroke="#858585" stroke-width="0.55"/>
<line x1="184.04" y1="270.11" x2="184.04" y2="271.39" stroke="#858585" stroke-width="0.55"/>
<line x1="183.04" y1="270.11" x2="185.04" y2="270.11" stroke="#858585" stroke-width="0.55"/>
<line x1="183.04" y1="271.39" x2="185.04" y2="271.39" stroke="#858585" stroke-width="0.55"/>
<circle cx="182.74" cy="265.3" r="0.8" fill="#1a1a1a"/><circle cx="185.34" cy="265.3" r="0.8" fill="#1a1a1a"/>
<line x1="188.23" y1="264.35" x2="188.23" y2="269.47" stroke="#858585" stroke-width="0.55"/>
<line x1="187.23" y1="264.35" x2="189.23" y2="264.35" stroke="#858585" stroke-width="0.55"/>
<line x1="187.23" y1="269.47" x2="189.23" y2="269.47" stroke="#858585" stroke-width="0.55"/>
<line x1="192.41" y1="268.06" x2="192.41" y2="269.85" stroke="#858585" stroke-width="0.55"/>
<line x1="191.41" y1="268.06" x2="193.41" y2="268.06" stroke="#858585" stroke-width="0.55"/>
<line x1="191.41" y1="269.85" x2="193.41" y2="269.85" stroke="#858585" stroke-width="0.55"/>
<circle cx="192.41" cy="263.8" r="0.8" fill="#1a1a1a"/>
<text x="179.86" y="287.2" font-size="6.3" fill="#262626" stroke="#262626" stroke-width="0.05" text-anchor="middle" textLength="13.97" lengthAdjust="spacingAndGlyphs">Brain</text>
<rect x="200.78" y="263.84" width="4.19" height="12.66" fill="#3F6CBF"/>
<rect x="204.97" y="272.15" width="4.19" height="4.35" fill="#E57428"/>
<rect x="209.16" y="264.87" width="4.19" height="11.64" fill="#A0A0A0"/>
<rect x="213.34" y="271.13" width="4.19" height="5.37" fill="#F7B900"/>
<rect x="217.53" y="272.15" width="4.19" height="4.35" fill="#5495D2"/>
<rect x="221.71" y="264.23" width="4.19" height="12.27" fill="#68A640"/>
<rect x="225.9" y="267.93" width="4.19" height="8.57" fill="#8CA7DB"/>
<line x1="202.88" y1="261.29" x2="202.88" y2="266.4" stroke="#858585" stroke-width="0.55"/>
<line x1="201.88" y1="261.29" x2="203.88" y2="261.29" stroke="#858585" stroke-width="0.55"/>
<line x1="201.88" y1="266.4" x2="203.88" y2="266.4" stroke="#858585" stroke-width="0.55"/>
<line x1="207.06" y1="271.64" x2="207.06" y2="272.66" stroke="#858585" stroke-width="0.55"/>
<line x1="206.06" y1="271.64" x2="208.06" y2="271.64" stroke="#858585" stroke-width="0.55"/>
<line x1="206.06" y1="272.66" x2="208.06" y2="272.66" stroke="#858585" stroke-width="0.55"/>
<circle cx="205.76" cy="266.1" r="0.8" fill="#1a1a1a"/><circle cx="208.36" cy="266.1" r="0.8" fill="#1a1a1a"/>
<line x1="211.25" y1="262.31" x2="211.25" y2="267.42" stroke="#858585" stroke-width="0.55"/>
<line x1="210.25" y1="262.31" x2="212.25" y2="262.31" stroke="#858585" stroke-width="0.55"/>
<line x1="210.25" y1="267.42" x2="212.25" y2="267.42" stroke="#858585" stroke-width="0.55"/>
<circle cx="209.95" cy="266.1" r="0.8" fill="#1a1a1a"/><circle cx="212.55" cy="266.1" r="0.8" fill="#1a1a1a"/>
<line x1="215.43" y1="270.36" x2="215.43" y2="271.9" stroke="#858585" stroke-width="0.55"/>
<line x1="214.43" y1="270.36" x2="216.43" y2="270.36" stroke="#858585" stroke-width="0.55"/>
<line x1="214.43" y1="271.9" x2="216.43" y2="271.9" stroke="#858585" stroke-width="0.55"/>
<circle cx="214.13" cy="266.1" r="0.8" fill="#1a1a1a"/><circle cx="216.73" cy="266.1" r="0.8" fill="#1a1a1a"/>
<line x1="219.62" y1="271.9" x2="219.62" y2="272.41" stroke="#858585" stroke-width="0.55"/>
<line x1="218.62" y1="271.9" x2="220.62" y2="271.9" stroke="#858585" stroke-width="0.55"/>
<line x1="218.62" y1="272.41" x2="220.62" y2="272.41" stroke="#858585" stroke-width="0.55"/>
<circle cx="218.32" cy="267.9" r="0.8" fill="#1a1a1a"/><circle cx="220.92" cy="267.9" r="0.8" fill="#1a1a1a"/>
<line x1="223.81" y1="261.54" x2="223.81" y2="266.91" stroke="#858585" stroke-width="0.55"/>
<line x1="222.81" y1="261.54" x2="224.81" y2="261.54" stroke="#858585" stroke-width="0.55"/>
<line x1="222.81" y1="266.91" x2="224.81" y2="266.91" stroke="#858585" stroke-width="0.55"/>
<line x1="227.99" y1="266.53" x2="227.99" y2="269.34" stroke="#858585" stroke-width="0.55"/>
<line x1="226.99" y1="266.53" x2="228.99" y2="266.53" stroke="#858585" stroke-width="0.55"/>
<line x1="226.99" y1="269.34" x2="228.99" y2="269.34" stroke="#858585" stroke-width="0.55"/>
<text x="215.43" y="287.2" font-size="6.3" fill="#262626" stroke="#262626" stroke-width="0.05" text-anchor="middle" textLength="22.62" lengthAdjust="spacingAndGlyphs">Intestine</text>
<rect x="236.36" y="263.71" width="4.19" height="12.79" fill="#3F6CBF"/>
<rect x="240.55" y="273.3" width="4.19" height="3.2" fill="#E57428"/>
<rect x="244.73" y="256.94" width="4.19" height="19.56" fill="#A0A0A0"/>
<rect x="248.92" y="271.64" width="4.19" height="4.86" fill="#F7B900"/>
<rect x="253.1" y="271.51" width="4.19" height="4.99" fill="#5495D2"/>
<rect x="257.29" y="263.97" width="4.19" height="12.53" fill="#68A640"/>
<rect x="261.48" y="269.98" width="4.19" height="6.52" fill="#8CA7DB"/>
<line x1="238.45" y1="262.44" x2="238.45" y2="264.99" stroke="#858585" stroke-width="0.55"/>
<line x1="237.45" y1="262.44" x2="239.45" y2="262.44" stroke="#858585" stroke-width="0.55"/>
<line x1="237.45" y1="264.99" x2="239.45" y2="264.99" stroke="#858585" stroke-width="0.55"/>
<line x1="242.64" y1="272.92" x2="242.64" y2="273.69" stroke="#858585" stroke-width="0.55"/>
<line x1="241.64" y1="272.92" x2="243.64" y2="272.92" stroke="#858585" stroke-width="0.55"/>
<line x1="241.64" y1="273.69" x2="243.64" y2="273.69" stroke="#858585" stroke-width="0.55"/>
<line x1="246.83" y1="247.09" x2="246.83" y2="266.78" stroke="#858585" stroke-width="0.55"/>
<line x1="245.83" y1="247.09" x2="247.83" y2="247.09" stroke="#858585" stroke-width="0.55"/>
<line x1="245.83" y1="266.78" x2="247.83" y2="266.78" stroke="#858585" stroke-width="0.55"/>
<line x1="251.01" y1="271.26" x2="251.01" y2="272.02" stroke="#858585" stroke-width="0.55"/>
<line x1="250.01" y1="271.26" x2="252.01" y2="271.26" stroke="#858585" stroke-width="0.55"/>
<line x1="250.01" y1="272.02" x2="252.01" y2="272.02" stroke="#858585" stroke-width="0.55"/>
<line x1="255.2" y1="271.13" x2="255.2" y2="271.9" stroke="#858585" stroke-width="0.55"/>
<line x1="254.2" y1="271.13" x2="256.2" y2="271.13" stroke="#858585" stroke-width="0.55"/>
<line x1="254.2" y1="271.9" x2="256.2" y2="271.9" stroke="#858585" stroke-width="0.55"/>
<line x1="259.38" y1="262.31" x2="259.38" y2="265.63" stroke="#858585" stroke-width="0.55"/>
<line x1="258.38" y1="262.31" x2="260.38" y2="262.31" stroke="#858585" stroke-width="0.55"/>
<line x1="258.38" y1="265.63" x2="260.38" y2="265.63" stroke="#858585" stroke-width="0.55"/>
<line x1="263.57" y1="269.6" x2="263.57" y2="270.36" stroke="#858585" stroke-width="0.55"/>
<line x1="262.57" y1="269.6" x2="264.57" y2="269.6" stroke="#858585" stroke-width="0.55"/>
<line x1="262.57" y1="270.36" x2="264.57" y2="270.36" stroke="#858585" stroke-width="0.55"/>
<text x="251.01" y="287.2" font-size="6.3" fill="#262626" stroke="#262626" stroke-width="0.05" text-anchor="middle" textLength="14.63" lengthAdjust="spacingAndGlyphs">Heart</text>
<rect x="65.1" y="178.45" width="3.5" height="3.5" fill="#3F6CBF"/>
<text x="69.9" y="182.4" font-size="6.5" fill="#262626" stroke="#262626" stroke-width="0.1" textLength="15" lengthAdjust="spacingAndGlyphs">Cont.</text>
<rect x="90" y="178.45" width="3.5" height="3.5" fill="#E57428"/>
<text x="94.8" y="182.4" font-size="6.5" fill="#262626" stroke="#262626" stroke-width="0.1" textLength="10.9" lengthAdjust="spacingAndGlyphs">1 hr</text>
<rect x="111.5" y="178.45" width="3.5" height="3.5" fill="#A0A0A0"/>
<text x="116.3" y="182.4" font-size="6.5" fill="#262626" stroke="#262626" stroke-width="0.1" textLength="14.6" lengthAdjust="spacingAndGlyphs">12 hr</text>
<rect x="136" y="178.45" width="3.5" height="3.5" fill="#F7B900"/>
<text x="140.8" y="182.4" font-size="6.5" fill="#262626" stroke="#262626" stroke-width="0.1" textLength="14.5" lengthAdjust="spacingAndGlyphs">1 day</text>
<rect x="161.3" y="178.45" width="3.5" height="3.5" fill="#5495D2"/>
<text x="166.1" y="182.4" font-size="6.5" fill="#262626" stroke="#262626" stroke-width="0.1" textLength="15.2" lengthAdjust="spacingAndGlyphs">3 day</text>
<rect x="186.7" y="178.45" width="3.5" height="3.5" fill="#68A640"/>
<text x="191.5" y="182.4" font-size="6.5" fill="#262626" stroke="#262626" stroke-width="0.1" textLength="15.2" lengthAdjust="spacingAndGlyphs">5 day</text>
<rect x="211.8" y="178.45" width="3.5" height="3.5" fill="#8CA7DB"/>
<text x="216.6" y="182.4" font-size="6.5" fill="#262626" stroke="#262626" stroke-width="0.1" textLength="14.9" lengthAdjust="spacingAndGlyphs">7 day</text>
<text x="274.7" y="171.1" font-size="8.6" font-weight="bold" fill="#000" stroke="#000" stroke-width="0.3" textLength="119.3" lengthAdjust="spacing">(D) <tspan font-style="italic">S. parauberis</tspan> (S30FAU)</text>
<line x1="291.3" y1="185.2" x2="291.3" y2="276.2" stroke="#D9D9D9" stroke-width="0.75"/>
<line x1="289.3" y1="276.2" x2="291.3" y2="276.2" stroke="#D9D9D9" stroke-width="0.75"/>
<text x="284.8" y="278.5" font-size="6.6" fill="#404040" text-anchor="end" textLength="10" lengthAdjust="spacingAndGlyphs">0.00</text>
<line x1="289.3" y1="258" x2="291.3" y2="258" stroke="#D9D9D9" stroke-width="0.75"/>
<text x="284.8" y="260.3" font-size="6.6" fill="#404040" text-anchor="end" textLength="10" lengthAdjust="spacingAndGlyphs">2.00</text>
<line x1="289.3" y1="239.8" x2="291.3" y2="239.8" stroke="#D9D9D9" stroke-width="0.75"/>
<text x="284.8" y="242.1" font-size="6.6" fill="#404040" text-anchor="end" textLength="10" lengthAdjust="spacingAndGlyphs">4.00</text>
<line x1="289.3" y1="221.6" x2="291.3" y2="221.6" stroke="#D9D9D9" stroke-width="0.75"/>
<text x="284.8" y="223.9" font-size="6.6" fill="#404040" text-anchor="end" textLength="10" lengthAdjust="spacingAndGlyphs">6.00</text>
<line x1="289.3" y1="203.4" x2="291.3" y2="203.4" stroke="#D9D9D9" stroke-width="0.75"/>
<text x="284.8" y="205.7" font-size="6.6" fill="#404040" text-anchor="end" textLength="10" lengthAdjust="spacingAndGlyphs">8.00</text>
<line x1="289.3" y1="185.2" x2="291.3" y2="185.2" stroke="#D9D9D9" stroke-width="0.75"/>
<text x="284.8" y="187.5" font-size="6.6" fill="#404040" text-anchor="end" textLength="13" lengthAdjust="spacingAndGlyphs">10.00</text>
<line x1="291.3" y1="276.2" x2="546.8" y2="276.2" stroke="#D9D9D9" stroke-width="0.75"/>
<line x1="291.8" y1="276.2" x2="291.8" y2="278.2" stroke="#D9D9D9" stroke-width="0.75"/>
<line x1="328.23" y1="276.2" x2="328.23" y2="278.2" stroke="#D9D9D9" stroke-width="0.75"/>
<line x1="364.66" y1="276.2" x2="364.66" y2="278.2" stroke="#D9D9D9" stroke-width="0.75"/>
<line x1="401.09" y1="276.2" x2="401.09" y2="278.2" stroke="#D9D9D9" stroke-width="0.75"/>
<line x1="437.51" y1="276.2" x2="437.51" y2="278.2" stroke="#D9D9D9" stroke-width="0.75"/>
<line x1="473.94" y1="276.2" x2="473.94" y2="278.2" stroke="#D9D9D9" stroke-width="0.75"/>
<line x1="510.37" y1="276.2" x2="510.37" y2="278.2" stroke="#D9D9D9" stroke-width="0.75"/>
<line x1="546.8" y1="276.2" x2="546.8" y2="278.2" stroke="#D9D9D9" stroke-width="0.75"/>
<rect x="295.01" y="267.28" width="4.29" height="8.92" fill="#3F6CBF"/>
<rect x="299.3" y="247.35" width="4.29" height="28.85" fill="#E57428"/>
<rect x="303.59" y="267.01" width="4.29" height="9.19" fill="#A0A0A0"/>
<rect x="307.87" y="267.65" width="4.29" height="8.55" fill="#F7B900"/>
<rect x="312.16" y="261.91" width="4.29" height="14.29" fill="#5495D2"/>
<rect x="316.44" y="252.27" width="4.29" height="23.93" fill="#68A640"/>
<rect x="320.73" y="214.77" width="4.29" height="61.42" fill="#8CA7DB"/>
<line x1="297.16" y1="266.55" x2="297.16" y2="268.01" stroke="#858585" stroke-width="0.55"/>
<line x1="296.16" y1="266.55" x2="298.16" y2="266.55" stroke="#858585" stroke-width="0.55"/>
<line x1="296.16" y1="268.01" x2="298.16" y2="268.01" stroke="#858585" stroke-width="0.55"/>
<line x1="301.44" y1="244.53" x2="301.44" y2="250.17" stroke="#858585" stroke-width="0.55"/>
<line x1="300.44" y1="244.53" x2="302.44" y2="244.53" stroke="#858585" stroke-width="0.55"/>
<line x1="300.44" y1="250.17" x2="302.44" y2="250.17" stroke="#858585" stroke-width="0.55"/>
<circle cx="300.14" cy="240.4" r="0.8" fill="#1a1a1a"/><circle cx="302.74" cy="240.4" r="0.8" fill="#1a1a1a"/>
<line x1="305.73" y1="263.91" x2="305.73" y2="270.1" stroke="#858585" stroke-width="0.55"/>
<line x1="304.73" y1="263.91" x2="306.73" y2="263.91" stroke="#858585" stroke-width="0.55"/>
<line x1="304.73" y1="270.1" x2="306.73" y2="270.1" stroke="#858585" stroke-width="0.55"/>
<line x1="310.01" y1="266.55" x2="310.01" y2="268.74" stroke="#858585" stroke-width="0.55"/>
<line x1="309.01" y1="266.55" x2="311.01" y2="266.55" stroke="#858585" stroke-width="0.55"/>
<line x1="309.01" y1="268.74" x2="311.01" y2="268.74" stroke="#858585" stroke-width="0.55"/>
<line x1="314.3" y1="259.27" x2="314.3" y2="264.55" stroke="#858585" stroke-width="0.55"/>
<line x1="313.3" y1="259.27" x2="315.3" y2="259.27" stroke="#858585" stroke-width="0.55"/>
<line x1="313.3" y1="264.55" x2="315.3" y2="264.55" stroke="#858585" stroke-width="0.55"/>
<line x1="318.59" y1="248.08" x2="318.59" y2="256.45" stroke="#858585" stroke-width="0.55"/>
<line x1="317.59" y1="248.08" x2="319.59" y2="248.08" stroke="#858585" stroke-width="0.55"/>
<line x1="317.59" y1="256.45" x2="319.59" y2="256.45" stroke="#858585" stroke-width="0.55"/>
<circle cx="317.29" cy="243.8" r="0.8" fill="#1a1a1a"/><circle cx="319.89" cy="243.8" r="0.8" fill="#1a1a1a"/>
<line x1="322.87" y1="205.49" x2="322.87" y2="224.06" stroke="#858585" stroke-width="0.55"/>
<line x1="321.87" y1="205.49" x2="323.87" y2="205.49" stroke="#858585" stroke-width="0.55"/>
<line x1="321.87" y1="224.06" x2="323.87" y2="224.06" stroke="#858585" stroke-width="0.55"/>
<circle cx="321.57" cy="200.2" r="0.8" fill="#1a1a1a"/><circle cx="324.17" cy="200.2" r="0.8" fill="#1a1a1a"/>
<text x="310.01" y="287.2" font-size="6.3" fill="#262626" stroke="#262626" stroke-width="0.05" text-anchor="middle" textLength="18.3" lengthAdjust="spacingAndGlyphs">Kidney</text>
<rect x="331.44" y="267.28" width="4.29" height="8.92" fill="#3F6CBF"/>
<rect x="335.73" y="251.17" width="4.29" height="25.02" fill="#E57428"/>
<rect x="340.01" y="262.19" width="4.29" height="14.01" fill="#A0A0A0"/>
<rect x="344.3" y="267.83" width="4.29" height="8.37" fill="#F7B900"/>
<rect x="348.59" y="269.92" width="4.29" height="6.28" fill="#5495D2"/>
<rect x="352.87" y="266.19" width="4.29" height="10.01" fill="#68A640"/>
<rect x="357.16" y="253.18" width="4.29" height="23.02" fill="#8CA7DB"/>
<line x1="333.59" y1="266.83" x2="333.59" y2="267.74" stroke="#858585" stroke-width="0.55"/>
<line x1="332.59" y1="266.83" x2="334.59" y2="266.83" stroke="#858585" stroke-width="0.55"/>
<line x1="332.59" y1="267.74" x2="334.59" y2="267.74" stroke="#858585" stroke-width="0.55"/>
<line x1="337.87" y1="249.17" x2="337.87" y2="253.18" stroke="#858585" stroke-width="0.55"/>
<line x1="336.87" y1="249.17" x2="338.87" y2="249.17" stroke="#858585" stroke-width="0.55"/>
<line x1="336.87" y1="253.18" x2="338.87" y2="253.18" stroke="#858585" stroke-width="0.55"/>
<circle cx="336.57" cy="245.5" r="0.8" fill="#1a1a1a"/><circle cx="339.17" cy="245.5" r="0.8" fill="#1a1a1a"/>
<line x1="342.16" y1="259.27" x2="342.16" y2="265.1" stroke="#858585" stroke-width="0.55"/>
<line x1="341.16" y1="259.27" x2="343.16" y2="259.27" stroke="#858585" stroke-width="0.55"/>
<line x1="341.16" y1="265.1" x2="343.16" y2="265.1" stroke="#858585" stroke-width="0.55"/>
<circle cx="342.16" cy="256.2" r="0.8" fill="#1a1a1a"/>
<line x1="346.44" y1="267.28" x2="346.44" y2="268.37" stroke="#858585" stroke-width="0.55"/>
<line x1="345.44" y1="267.28" x2="347.44" y2="267.28" stroke="#858585" stroke-width="0.55"/>
<line x1="345.44" y1="268.37" x2="347.44" y2="268.37" stroke="#858585" stroke-width="0.55"/>
<line x1="350.73" y1="268.83" x2="350.73" y2="271.01" stroke="#858585" stroke-width="0.55"/>
<line x1="349.73" y1="268.83" x2="351.73" y2="268.83" stroke="#858585" stroke-width="0.55"/>
<line x1="349.73" y1="271.01" x2="351.73" y2="271.01" stroke="#858585" stroke-width="0.55"/>
<line x1="355.01" y1="263.91" x2="355.01" y2="268.46" stroke="#858585" stroke-width="0.55"/>
<line x1="354.01" y1="263.91" x2="356.01" y2="263.91" stroke="#858585" stroke-width="0.55"/>
<line x1="354.01" y1="268.46" x2="356.01" y2="268.46" stroke="#858585" stroke-width="0.55"/>
<line x1="359.3" y1="252.72" x2="359.3" y2="253.63" stroke="#858585" stroke-width="0.55"/>
<line x1="358.3" y1="252.72" x2="360.3" y2="252.72" stroke="#858585" stroke-width="0.55"/>
<line x1="358.3" y1="253.63" x2="360.3" y2="253.63" stroke="#858585" stroke-width="0.55"/>
<circle cx="358" cy="249.2" r="0.8" fill="#1a1a1a"/><circle cx="360.6" cy="249.2" r="0.8" fill="#1a1a1a"/>
<text x="346.44" y="287.2" font-size="6.3" fill="#262626" stroke="#262626" stroke-width="0.05" text-anchor="middle" textLength="18.63" lengthAdjust="spacingAndGlyphs">Spleen</text>
<rect x="367.87" y="267.1" width="4.29" height="9.1" fill="#3F6CBF"/>
<rect x="372.16" y="272.29" width="4.29" height="3.91" fill="#E57428"/>
<rect x="376.44" y="268.92" width="4.29" height="7.28" fill="#A0A0A0"/>
<rect x="380.73" y="274.56" width="4.29" height="1.64" fill="#F7B900"/>
<rect x="385.01" y="271.19" width="4.29" height="5" fill="#5495D2"/>
<rect x="389.3" y="272.1" width="4.29" height="4.09" fill="#68A640"/>
<rect x="393.59" y="271.65" width="4.29" height="4.55" fill="#8CA7DB"/>
<line x1="370.01" y1="266.64" x2="370.01" y2="267.56" stroke="#858585" stroke-width="0.55"/>
<line x1="369.01" y1="266.64" x2="371.01" y2="266.64" stroke="#858585" stroke-width="0.55"/>
<line x1="369.01" y1="267.56" x2="371.01" y2="267.56" stroke="#858585" stroke-width="0.55"/>
<line x1="374.3" y1="271.65" x2="374.3" y2="272.92" stroke="#858585" stroke-width="0.55"/>
<line x1="373.3" y1="271.65" x2="375.3" y2="271.65" stroke="#858585" stroke-width="0.55"/>
<line x1="373.3" y1="272.92" x2="375.3" y2="272.92" stroke="#858585" stroke-width="0.55"/>
<circle cx="373" cy="267.6" r="0.8" fill="#1a1a1a"/><circle cx="375.6" cy="267.6" r="0.8" fill="#1a1a1a"/>
<line x1="378.59" y1="268.01" x2="378.59" y2="269.83" stroke="#858585" stroke-width="0.55"/>
<line x1="377.59" y1="268.01" x2="379.59" y2="268.01" stroke="#858585" stroke-width="0.55"/>
<line x1="377.59" y1="269.83" x2="379.59" y2="269.83" stroke="#858585" stroke-width="0.55"/>
<line x1="382.87" y1="274.11" x2="382.87" y2="275.02" stroke="#858585" stroke-width="0.55"/>
<line x1="381.87" y1="274.11" x2="383.87" y2="274.11" stroke="#858585" stroke-width="0.55"/>
<line x1="381.87" y1="275.02" x2="383.87" y2="275.02" stroke="#858585" stroke-width="0.55"/>
<circle cx="381.57" cy="269.6" r="0.8" fill="#1a1a1a"/><circle cx="384.17" cy="269.6" r="0.8" fill="#1a1a1a"/>
<line x1="387.16" y1="270.56" x2="387.16" y2="271.83" stroke="#858585" stroke-width="0.55"/>
<line x1="386.16" y1="270.56" x2="388.16" y2="270.56" stroke="#858585" stroke-width="0.55"/>
<line x1="386.16" y1="271.83" x2="388.16" y2="271.83" stroke="#858585" stroke-width="0.55"/>
<circle cx="385.86" cy="266.6" r="0.8" fill="#1a1a1a"/><circle cx="388.46" cy="266.6" r="0.8" fill="#1a1a1a"/>
<line x1="391.44" y1="271.65" x2="391.44" y2="272.56" stroke="#858585" stroke-width="0.55"/>
<line x1="390.44" y1="271.65" x2="392.44" y2="271.65" stroke="#858585" stroke-width="0.55"/>
<line x1="390.44" y1="272.56" x2="392.44" y2="272.56" stroke="#858585" stroke-width="0.55"/>
<circle cx="390.14" cy="267.6" r="0.8" fill="#1a1a1a"/><circle cx="392.74" cy="267.6" r="0.8" fill="#1a1a1a"/>
<line x1="395.73" y1="271.1" x2="395.73" y2="272.2" stroke="#858585" stroke-width="0.55"/>
<line x1="394.73" y1="271.1" x2="396.73" y2="271.1" stroke="#858585" stroke-width="0.55"/>
<line x1="394.73" y1="272.2" x2="396.73" y2="272.2" stroke="#858585" stroke-width="0.55"/>
<circle cx="394.43" cy="267.2" r="0.8" fill="#1a1a1a"/><circle cx="397.03" cy="267.2" r="0.8" fill="#1a1a1a"/>
<text x="382.87" y="287.2" font-size="6.3" fill="#262626" stroke="#262626" stroke-width="0.05" text-anchor="middle" textLength="8.64" lengthAdjust="spacingAndGlyphs">Gill</text>
<rect x="404.3" y="267.28" width="4.29" height="8.92" fill="#3F6CBF"/>
<rect x="408.59" y="265.01" width="4.29" height="11.19" fill="#E57428"/>
<rect x="412.87" y="271.19" width="4.29" height="5" fill="#A0A0A0"/>
<rect x="417.16" y="256.09" width="4.29" height="20.11" fill="#F7B900"/>
<rect x="421.44" y="271.92" width="4.29" height="4.28" fill="#5495D2"/>
<rect x="425.73" y="268.83" width="4.29" height="7.37" fill="#68A640"/>
<rect x="430.01" y="254.72" width="4.29" height="21.48" fill="#8CA7DB"/>
<line x1="406.44" y1="266.64" x2="406.44" y2="267.92" stroke="#858585" stroke-width="0.55"/>
<line x1="405.44" y1="266.64" x2="407.44" y2="266.64" stroke="#858585" stroke-width="0.55"/>
<line x1="405.44" y1="267.92" x2="407.44" y2="267.92" stroke="#858585" stroke-width="0.55"/>
<line x1="410.73" y1="263.19" x2="410.73" y2="266.83" stroke="#858585" stroke-width="0.55"/>
<line x1="409.73" y1="263.19" x2="411.73" y2="263.19" stroke="#858585" stroke-width="0.55"/>
<line x1="409.73" y1="266.83" x2="411.73" y2="266.83" stroke="#858585" stroke-width="0.55"/>
<line x1="415.01" y1="270.47" x2="415.01" y2="271.92" stroke="#858585" stroke-width="0.55"/>
<line x1="414.01" y1="270.47" x2="416.01" y2="270.47" stroke="#858585" stroke-width="0.55"/>
<line x1="414.01" y1="271.92" x2="416.01" y2="271.92" stroke="#858585" stroke-width="0.55"/>
<line x1="419.3" y1="255.27" x2="419.3" y2="256.91" stroke="#858585" stroke-width="0.55"/>
<line x1="418.3" y1="255.27" x2="420.3" y2="255.27" stroke="#858585" stroke-width="0.55"/>
<line x1="418.3" y1="256.91" x2="420.3" y2="256.91" stroke="#858585" stroke-width="0.55"/>
<circle cx="418" cy="250.1" r="0.8" fill="#1a1a1a"/><circle cx="420.6" cy="250.1" r="0.8" fill="#1a1a1a"/>
<line x1="423.59" y1="270.74" x2="423.59" y2="273.11" stroke="#858585" stroke-width="0.55"/>
<line x1="422.59" y1="270.74" x2="424.59" y2="270.74" stroke="#858585" stroke-width="0.55"/>
<line x1="422.59" y1="273.11" x2="424.59" y2="273.11" stroke="#858585" stroke-width="0.55"/>
<line x1="427.87" y1="265.01" x2="427.87" y2="272.65" stroke="#858585" stroke-width="0.55"/>
<line x1="426.87" y1="265.01" x2="428.87" y2="265.01" stroke="#858585" stroke-width="0.55"/>
<line x1="426.87" y1="272.65" x2="428.87" y2="272.65" stroke="#858585" stroke-width="0.55"/>
<line x1="432.16" y1="250.81" x2="432.16" y2="258.64" stroke="#858585" stroke-width="0.55"/>
<line x1="431.16" y1="250.81" x2="433.16" y2="250.81" stroke="#858585" stroke-width="0.55"/>
<line x1="431.16" y1="258.64" x2="433.16" y2="258.64" stroke="#858585" stroke-width="0.55"/>
<circle cx="430.86" cy="246.2" r="0.8" fill="#1a1a1a"/><circle cx="433.46" cy="246.2" r="0.8" fill="#1a1a1a"/>
<text x="419.3" y="287.2" font-size="6.3" fill="#262626" stroke="#262626" stroke-width="0.05" text-anchor="middle" textLength="12.97" lengthAdjust="spacingAndGlyphs">Liver</text>
<rect x="440.73" y="267.28" width="4.29" height="8.92" fill="#3F6CBF"/>
<rect x="445.01" y="259.91" width="4.29" height="16.29" fill="#E57428"/>
<rect x="449.3" y="267.65" width="4.29" height="8.55" fill="#A0A0A0"/>
<rect x="453.59" y="267.01" width="4.29" height="9.19" fill="#F7B900"/>
<rect x="457.87" y="268.56" width="4.29" height="7.64" fill="#5495D2"/>
<rect x="462.16" y="258.82" width="4.29" height="17.38" fill="#68A640"/>
<rect x="466.44" y="255" width="4.29" height="21.2" fill="#8CA7DB"/>
<line x1="442.87" y1="265.46" x2="442.87" y2="269.1" stroke="#858585" stroke-width="0.55"/>
<line x1="441.87" y1="265.46" x2="443.87" y2="265.46" stroke="#858585" stroke-width="0.55"/>
<line x1="441.87" y1="269.1" x2="443.87" y2="269.1" stroke="#858585" stroke-width="0.55"/>
<line x1="447.16" y1="256.27" x2="447.16" y2="263.55" stroke="#858585" stroke-width="0.55"/>
<line x1="446.16" y1="256.27" x2="448.16" y2="256.27" stroke="#858585" stroke-width="0.55"/>
<line x1="446.16" y1="263.55" x2="448.16" y2="263.55" stroke="#858585" stroke-width="0.55"/>
<line x1="451.44" y1="263.46" x2="451.44" y2="271.83" stroke="#858585" stroke-width="0.55"/>
<line x1="450.44" y1="263.46" x2="452.44" y2="263.46" stroke="#858585" stroke-width="0.55"/>
<line x1="450.44" y1="271.83" x2="452.44" y2="271.83" stroke="#858585" stroke-width="0.55"/>
<line x1="455.73" y1="263.46" x2="455.73" y2="270.56" stroke="#858585" stroke-width="0.55"/>
<line x1="454.73" y1="263.46" x2="456.73" y2="263.46" stroke="#858585" stroke-width="0.55"/>
<line x1="454.73" y1="270.56" x2="456.73" y2="270.56" stroke="#858585" stroke-width="0.55"/>
<line x1="460.01" y1="267.28" x2="460.01" y2="269.83" stroke="#858585" stroke-width="0.55"/>
<line x1="459.01" y1="267.28" x2="461.01" y2="267.28" stroke="#858585" stroke-width="0.55"/>
<line x1="459.01" y1="269.83" x2="461.01" y2="269.83" stroke="#858585" stroke-width="0.55"/>
<line x1="464.3" y1="250.36" x2="464.3" y2="267.28" stroke="#858585" stroke-width="0.55"/>
<line x1="463.3" y1="250.36" x2="465.3" y2="250.36" stroke="#858585" stroke-width="0.55"/>
<line x1="463.3" y1="267.28" x2="465.3" y2="267.28" stroke="#858585" stroke-width="0.55"/>
<line x1="468.59" y1="248.08" x2="468.59" y2="261.91" stroke="#858585" stroke-width="0.55"/>
<line x1="467.59" y1="248.08" x2="469.59" y2="248.08" stroke="#858585" stroke-width="0.55"/>
<line x1="467.59" y1="261.91" x2="469.59" y2="261.91" stroke="#858585" stroke-width="0.55"/>
<text x="455.73" y="287.2" font-size="6.3" fill="#262626" stroke="#262626" stroke-width="0.05" text-anchor="middle" textLength="13.97" lengthAdjust="spacingAndGlyphs">Brain</text>
<rect x="477.16" y="267.56" width="4.29" height="8.64" fill="#3F6CBF"/>
<rect x="481.44" y="273.2" width="4.29" height="3" fill="#E57428"/>
<rect x="485.73" y="272.01" width="4.29" height="4.19" fill="#A0A0A0"/>
<rect x="490.01" y="271.1" width="4.29" height="5.1" fill="#F7B900"/>
<rect x="494.3" y="275.2" width="4.29" height="1" fill="#5495D2"/>
<rect x="498.59" y="269.56" width="4.29" height="6.64" fill="#68A640"/>
<rect x="502.87" y="267.56" width="4.29" height="8.64" fill="#8CA7DB"/>
<line x1="479.3" y1="267.01" x2="479.3" y2="268.1" stroke="#858585" stroke-width="0.55"/>
<line x1="478.3" y1="267.01" x2="480.3" y2="267.01" stroke="#858585" stroke-width="0.55"/>
<line x1="478.3" y1="268.1" x2="480.3" y2="268.1" stroke="#858585" stroke-width="0.55"/>
<line x1="483.59" y1="272.01" x2="483.59" y2="274.38" stroke="#858585" stroke-width="0.55"/>
<line x1="482.59" y1="272.01" x2="484.59" y2="272.01" stroke="#858585" stroke-width="0.55"/>
<line x1="482.59" y1="274.38" x2="484.59" y2="274.38" stroke="#858585" stroke-width="0.55"/>
<circle cx="482.29" cy="267" r="0.8" fill="#1a1a1a"/><circle cx="484.89" cy="267" r="0.8" fill="#1a1a1a"/>
<line x1="487.87" y1="270.56" x2="487.87" y2="273.47" stroke="#858585" stroke-width="0.55"/>
<line x1="486.87" y1="270.56" x2="488.87" y2="270.56" stroke="#858585" stroke-width="0.55"/>
<line x1="486.87" y1="273.47" x2="488.87" y2="273.47" stroke="#858585" stroke-width="0.55"/>
<circle cx="486.57" cy="267" r="0.8" fill="#1a1a1a"/><circle cx="489.17" cy="267" r="0.8" fill="#1a1a1a"/>
<line x1="492.16" y1="270.19" x2="492.16" y2="272.01" stroke="#858585" stroke-width="0.55"/>
<line x1="491.16" y1="270.19" x2="493.16" y2="270.19" stroke="#858585" stroke-width="0.55"/>
<line x1="491.16" y1="272.01" x2="493.16" y2="272.01" stroke="#858585" stroke-width="0.55"/>
<circle cx="490.86" cy="267" r="0.8" fill="#1a1a1a"/><circle cx="493.46" cy="267" r="0.8" fill="#1a1a1a"/>
<line x1="496.44" y1="274.74" x2="496.44" y2="275.65" stroke="#858585" stroke-width="0.55"/>
<line x1="495.44" y1="274.74" x2="497.44" y2="274.74" stroke="#858585" stroke-width="0.55"/>
<line x1="495.44" y1="275.65" x2="497.44" y2="275.65" stroke="#858585" stroke-width="0.55"/>
<circle cx="495.14" cy="270.4" r="0.8" fill="#1a1a1a"/><circle cx="497.74" cy="270.4" r="0.8" fill="#1a1a1a"/>
<line x1="500.73" y1="268.1" x2="500.73" y2="271.01" stroke="#858585" stroke-width="0.55"/>
<line x1="499.73" y1="268.1" x2="501.73" y2="268.1" stroke="#858585" stroke-width="0.55"/>
<line x1="499.73" y1="271.01" x2="501.73" y2="271.01" stroke="#858585" stroke-width="0.55"/>
<line x1="505.01" y1="265.1" x2="505.01" y2="270.01" stroke="#858585" stroke-width="0.55"/>
<line x1="504.01" y1="265.1" x2="506.01" y2="265.1" stroke="#858585" stroke-width="0.55"/>
<line x1="504.01" y1="270.01" x2="506.01" y2="270.01" stroke="#858585" stroke-width="0.55"/>
<text x="492.16" y="287.2" font-size="6.3" fill="#262626" stroke="#262626" stroke-width="0.05" text-anchor="middle" textLength="22.62" lengthAdjust="spacingAndGlyphs">Intestine</text>
<rect x="513.59" y="267.65" width="4.29" height="8.55" fill="#3F6CBF"/>
<rect x="517.87" y="269.01" width="4.29" height="7.19" fill="#E57428"/>
<rect x="522.16" y="272.1" width="4.29" height="4.09" fill="#A0A0A0"/>
<rect x="526.44" y="272.38" width="4.29" height="3.82" fill="#F7B900"/>
<rect x="530.73" y="269.01" width="4.29" height="7.19" fill="#5495D2"/>
<rect x="535.01" y="264.92" width="4.29" height="11.28" fill="#68A640"/>
<rect x="539.3" y="252.08" width="4.29" height="24.11" fill="#8CA7DB"/>
<line x1="515.73" y1="266.74" x2="515.73" y2="268.56" stroke="#858585" stroke-width="0.55"/>
<line x1="514.73" y1="266.74" x2="516.73" y2="266.74" stroke="#858585" stroke-width="0.55"/>
<line x1="514.73" y1="268.56" x2="516.73" y2="268.56" stroke="#858585" stroke-width="0.55"/>
<line x1="520.01" y1="267.65" x2="520.01" y2="270.38" stroke="#858585" stroke-width="0.55"/>
<line x1="519.01" y1="267.65" x2="521.01" y2="267.65" stroke="#858585" stroke-width="0.55"/>
<line x1="519.01" y1="270.38" x2="521.01" y2="270.38" stroke="#858585" stroke-width="0.55"/>
<line x1="524.3" y1="270.65" x2="524.3" y2="273.56" stroke="#858585" stroke-width="0.55"/>
<line x1="523.3" y1="270.65" x2="525.3" y2="270.65" stroke="#858585" stroke-width="0.55"/>
<line x1="523.3" y1="273.56" x2="525.3" y2="273.56" stroke="#858585" stroke-width="0.55"/>
<line x1="528.59" y1="270.28" x2="528.59" y2="274.47" stroke="#858585" stroke-width="0.55"/>
<line x1="527.59" y1="270.28" x2="529.59" y2="270.28" stroke="#858585" stroke-width="0.55"/>
<line x1="527.59" y1="274.47" x2="529.59" y2="274.47" stroke="#858585" stroke-width="0.55"/>
<line x1="532.87" y1="266.37" x2="532.87" y2="271.65" stroke="#858585" stroke-width="0.55"/>
<line x1="531.87" y1="266.37" x2="533.87" y2="266.37" stroke="#858585" stroke-width="0.55"/>
<line x1="531.87" y1="271.65" x2="533.87" y2="271.65" stroke="#858585" stroke-width="0.55"/>
<line x1="537.16" y1="261.73" x2="537.16" y2="268.1" stroke="#858585" stroke-width="0.55"/>
<line x1="536.16" y1="261.73" x2="538.16" y2="261.73" stroke="#858585" stroke-width="0.55"/>
<line x1="536.16" y1="268.1" x2="538.16" y2="268.1" stroke="#858585" stroke-width="0.55"/>
<line x1="541.44" y1="249.81" x2="541.44" y2="254.36" stroke="#858585" stroke-width="0.55"/>
<line x1="540.44" y1="249.81" x2="542.44" y2="249.81" stroke="#858585" stroke-width="0.55"/>
<line x1="540.44" y1="254.36" x2="542.44" y2="254.36" stroke="#858585" stroke-width="0.55"/>
<circle cx="540.14" cy="246.2" r="0.8" fill="#1a1a1a"/><circle cx="542.74" cy="246.2" r="0.8" fill="#1a1a1a"/>
<text x="528.59" y="287.2" font-size="6.3" fill="#262626" stroke="#262626" stroke-width="0.05" text-anchor="middle" textLength="14.63" lengthAdjust="spacingAndGlyphs">Heart</text>
<rect x="336.9" y="179.55" width="3.5" height="3.5" fill="#3F6CBF"/>
<text x="341.7" y="183.5" font-size="6.5" fill="#262626" stroke="#262626" stroke-width="0.1" textLength="15" lengthAdjust="spacingAndGlyphs">Cont.</text>
<rect x="362.4" y="179.55" width="3.5" height="3.5" fill="#E57428"/>
<text x="367.2" y="183.5" font-size="6.5" fill="#262626" stroke="#262626" stroke-width="0.1" textLength="10.9" lengthAdjust="spacingAndGlyphs">1 hr</text>
<rect x="384.2" y="179.55" width="3.5" height="3.5" fill="#A0A0A0"/>
<text x="389" y="183.5" font-size="6.5" fill="#262626" stroke="#262626" stroke-width="0.1" textLength="14.6" lengthAdjust="spacingAndGlyphs">12 hr</text>
<rect x="410" y="179.55" width="3.5" height="3.5" fill="#F7B900"/>
<text x="414.8" y="183.5" font-size="6.5" fill="#262626" stroke="#262626" stroke-width="0.1" textLength="14.5" lengthAdjust="spacingAndGlyphs">1 day</text>
<rect x="435.5" y="179.55" width="3.5" height="3.5" fill="#5495D2"/>
<text x="440.3" y="183.5" font-size="6.5" fill="#262626" stroke="#262626" stroke-width="0.1" textLength="15.2" lengthAdjust="spacingAndGlyphs">3 day</text>
<rect x="461.5" y="179.55" width="3.5" height="3.5" fill="#68A640"/>
<text x="466.3" y="183.5" font-size="6.5" fill="#262626" stroke="#262626" stroke-width="0.1" textLength="15.2" lengthAdjust="spacingAndGlyphs">5 day</text>
<rect x="487.6" y="179.55" width="3.5" height="3.5" fill="#8CA7DB"/>
<text x="492.4" y="183.5" font-size="6.5" fill="#262626" stroke="#262626" stroke-width="0.1" textLength="14.9" lengthAdjust="spacingAndGlyphs">7 day</text>
</svg></body></html>
